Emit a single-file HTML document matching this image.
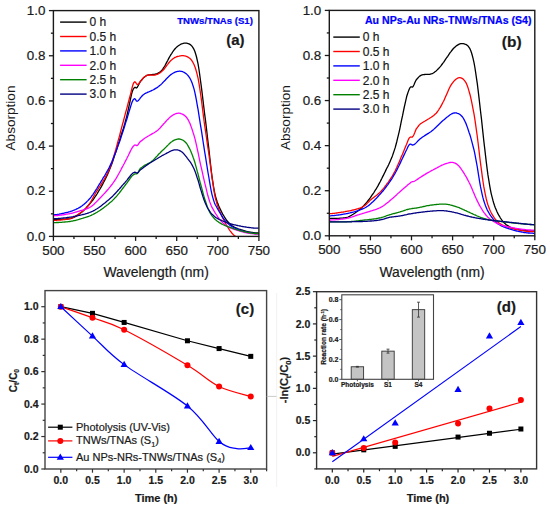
<!DOCTYPE html><html><head><meta charset="utf-8"><style>html,body{margin:0;padding:0;background:#fff;}svg{display:block;} text{stroke-width:0.2px;}</style></head><body>
<svg width="550" height="507" viewBox="0 0 550 507" font-family='"Liberation Sans", sans-serif'>
<rect width="550" height="507" fill="#ffffff"/>
<defs>
<clipPath id="clipa"><rect x="53.4" y="10.6" width="205.5" height="225.8"/></clipPath>
<clipPath id="clipb"><rect x="329.3" y="10.4" width="205.5" height="225.4"/></clipPath>
</defs>
<path d="M53.4,219.5 L54.2,219.5 L55.0,219.4 L55.9,219.4 L56.7,219.4 L57.5,219.4 L58.3,219.4 L59.2,219.4 L60.0,219.3 L60.8,219.3 L61.6,219.3 L62.4,219.2 L63.3,219.2 L64.1,219.2 L64.9,219.1 L65.7,219.1 L66.6,219.0 L67.4,219.0 L68.2,218.9 L69.0,218.8 L69.8,218.7 L70.7,218.5 L71.5,218.3 L72.3,218.0 L73.1,217.7 L73.9,217.3 L74.8,216.9 L75.6,216.4 L76.4,215.9 L77.2,215.4 L78.1,214.9 L78.9,214.3 L79.7,213.7 L80.5,213.1 L81.3,212.5 L82.2,211.8 L83.0,211.0 L83.8,210.3 L84.6,209.4 L85.5,208.6 L86.3,207.7 L87.1,206.8 L87.9,205.9 L88.7,205.0 L89.6,204.1 L90.4,203.1 L91.2,202.1 L92.0,201.1 L92.9,200.0 L93.7,198.9 L94.5,197.7 L95.3,196.5 L96.1,195.3 L97.0,194.0 L97.8,192.7 L98.6,191.3 L99.4,189.9 L100.3,188.5 L101.1,187.1 L101.9,185.6 L102.7,184.1 L103.5,182.5 L104.4,180.9 L105.2,179.3 L106.0,177.6 L106.8,175.9 L107.7,174.1 L108.5,172.2 L109.3,170.3 L110.1,168.3 L110.9,166.3 L111.8,164.1 L112.6,161.8 L113.4,159.4 L114.2,156.9 L115.0,154.4 L115.9,151.8 L116.7,149.2 L117.5,146.6 L118.3,144.0 L119.2,141.4 L120.0,138.9 L120.8,136.3 L121.6,133.8 L122.4,131.3 L123.3,128.7 L124.1,126.0 L124.9,123.2 L125.7,120.1 L126.6,116.9 L127.4,113.4 L128.2,109.8 L129.0,106.1 L129.8,102.5 L130.7,98.0 L131.5,94.4 L132.3,91.5 L133.1,89.4 L134.0,88.0 L134.8,87.3 L135.6,87.5 L136.4,88.0 L137.2,87.4 L138.1,85.8 L138.9,84.1 L139.7,82.6 L140.5,81.3 L141.4,80.5 L142.2,79.4 L143.0,78.4 L143.8,77.6 L144.6,76.9 L145.5,76.2 L146.3,75.7 L147.1,75.3 L147.9,75.1 L148.8,74.9 L149.6,74.8 L150.4,74.7 L151.2,74.6 L152.0,74.6 L152.9,74.5 L153.7,74.5 L154.5,74.4 L155.3,74.2 L156.1,74.0 L157.0,73.7 L157.8,73.3 L158.6,72.9 L159.4,72.3 L160.3,71.7 L161.1,71.0 L161.9,70.1 L162.7,69.1 L163.5,67.9 L164.4,66.6 L165.2,65.2 L166.0,63.6 L166.8,62.1 L167.7,60.5 L168.5,58.9 L169.3,57.4 L170.1,56.0 L170.9,54.6 L171.8,53.3 L172.6,52.0 L173.4,50.8 L174.2,49.8 L175.1,48.8 L175.9,47.9 L176.7,47.1 L177.5,46.4 L178.3,45.8 L179.2,45.2 L180.0,44.7 L180.8,44.2 L181.6,43.9 L182.5,43.6 L183.3,43.3 L184.1,43.2 L184.9,43.1 L185.7,43.2 L186.6,43.2 L187.4,43.4 L188.2,43.6 L189.0,43.9 L189.9,44.4 L190.7,44.9 L191.5,45.7 L192.3,46.7 L193.1,47.9 L194.0,49.4 L194.8,51.3 L195.6,53.7 L196.4,56.5 L197.2,60.0 L198.1,64.2 L198.9,69.0 L199.7,74.6 L200.5,80.7 L201.4,87.1 L202.2,93.7 L203.0,100.4 L203.8,107.0 L204.6,113.6 L205.5,120.3 L206.3,127.1 L207.1,134.0 L207.9,141.0 L208.8,148.3 L209.6,155.7 L210.4,163.0 L211.2,170.0 L212.0,176.6 L212.9,182.5 L213.7,187.6 L214.5,192.0 L215.3,195.6 L216.2,198.7 L217.0,201.3 L217.8,203.6 L218.6,205.6 L219.4,207.4 L220.3,209.2 L221.1,210.9 L221.9,212.5 L222.7,214.1 L223.6,215.5 L224.4,216.9 L225.2,218.2 L226.0,219.4 L226.8,220.5 L227.7,221.5 L228.5,222.4 L229.3,223.3 L230.1,224.1 L231.0,224.8 L231.8,225.5 L232.6,226.1 L233.4,226.6 L234.2,227.1 L235.1,227.5 L235.9,227.9 L236.7,228.2 L237.5,228.6 L238.3,228.9 L239.2,229.2 L240.0,229.4 L240.8,229.7 L241.6,230.0 L242.5,230.2 L243.3,230.5 L244.1,230.7 L244.9,231.0 L245.7,231.2 L246.6,231.4 L247.4,231.6 L248.2,231.8 L249.0,231.9 L249.9,232.1 L250.7,232.2 L251.5,232.4 L252.3,232.5 L253.1,232.6 L254.0,232.7 L254.8,232.8 L255.6,232.8 L256.4,232.9 L257.3,232.9 L258.1,233.0 L258.9,233.0" fill="none" stroke="#000000" stroke-width="1.3" stroke-linejoin="round" clip-path="url(#clipa)"/>
<path d="M53.4,220.3 L54.2,220.3 L55.0,220.3 L55.9,220.3 L56.7,220.3 L57.5,220.2 L58.3,220.2 L59.2,220.1 L60.0,220.1 L60.8,220.0 L61.6,219.9 L62.4,219.8 L63.3,219.7 L64.1,219.6 L64.9,219.5 L65.7,219.4 L66.6,219.3 L67.4,219.2 L68.2,219.0 L69.0,218.9 L69.8,218.7 L70.7,218.4 L71.5,218.2 L72.3,217.9 L73.1,217.5 L73.9,217.1 L74.8,216.6 L75.6,216.1 L76.4,215.6 L77.2,215.1 L78.1,214.5 L78.9,213.9 L79.7,213.4 L80.5,212.8 L81.3,212.2 L82.2,211.5 L83.0,210.9 L83.8,210.2 L84.6,209.5 L85.5,208.7 L86.3,207.9 L87.1,207.0 L87.9,206.0 L88.7,204.9 L89.6,203.7 L90.4,202.4 L91.2,201.0 L92.0,199.5 L92.9,197.9 L93.7,196.4 L94.5,195.0 L95.3,193.5 L96.1,192.2 L97.0,190.8 L97.8,189.5 L98.6,188.2 L99.4,187.0 L100.3,185.7 L101.1,184.4 L101.9,183.1 L102.7,181.8 L103.5,180.4 L104.4,179.1 L105.2,177.6 L106.0,176.1 L106.8,174.5 L107.7,172.9 L108.5,171.1 L109.3,169.2 L110.1,167.2 L110.9,165.1 L111.8,162.8 L112.6,160.3 L113.4,157.7 L114.2,155.0 L115.0,152.1 L115.9,149.2 L116.7,146.2 L117.5,143.2 L118.3,140.2 L119.2,137.1 L120.0,134.0 L120.8,130.9 L121.6,127.7 L122.4,124.6 L123.3,121.5 L124.1,118.3 L124.9,115.3 L125.7,112.2 L126.6,109.1 L127.4,106.1 L128.2,103.0 L129.0,99.9 L129.8,96.8 L130.7,93.6 L131.5,90.2 L132.3,86.9 L133.1,84.2 L134.0,82.4 L134.8,81.7 L135.6,82.3 L136.4,83.6 L137.2,84.5 L138.1,84.4 L138.9,83.6 L139.7,82.4 L140.5,81.1 L141.4,80.1 L142.2,79.2 L143.0,78.3 L143.8,77.5 L144.6,76.8 L145.5,76.2 L146.3,75.7 L147.1,75.4 L147.9,75.1 L148.8,75.0 L149.6,75.0 L150.4,75.0 L151.2,75.1 L152.0,75.2 L152.9,75.2 L153.7,75.2 L154.5,75.1 L155.3,75.0 L156.1,74.7 L157.0,74.4 L157.8,74.1 L158.6,73.7 L159.4,73.2 L160.3,72.6 L161.1,72.0 L161.9,71.3 L162.7,70.6 L163.5,69.7 L164.4,68.7 L165.2,67.6 L166.0,66.5 L166.8,65.4 L167.7,64.3 L168.5,63.2 L169.3,62.3 L170.1,61.4 L170.9,60.5 L171.8,59.8 L172.6,59.1 L173.4,58.5 L174.2,57.9 L175.1,57.4 L175.9,57.1 L176.7,56.7 L177.5,56.5 L178.3,56.3 L179.2,56.1 L180.0,55.9 L180.8,55.8 L181.6,55.7 L182.5,55.7 L183.3,55.7 L184.1,55.8 L184.9,55.9 L185.7,56.2 L186.6,56.4 L187.4,56.8 L188.2,57.2 L189.0,57.8 L189.9,58.4 L190.7,59.2 L191.5,60.2 L192.3,61.4 L193.1,62.8 L194.0,64.5 L194.8,66.5 L195.6,68.8 L196.4,71.5 L197.2,74.7 L198.1,78.4 L198.9,82.8 L199.7,87.8 L200.5,93.5 L201.4,99.7 L202.2,106.2 L203.0,112.7 L203.8,119.0 L204.6,125.0 L205.5,130.8 L206.3,136.5 L207.1,142.1 L207.9,147.7 L208.8,153.5 L209.6,159.4 L210.4,165.4 L211.2,171.5 L212.0,177.5 L212.9,183.4 L213.7,188.8 L214.5,193.7 L215.3,197.8 L216.2,201.2 L217.0,204.0 L217.8,206.4 L218.6,208.5 L219.4,210.5 L220.3,212.4 L221.1,214.3 L221.9,216.1 L222.7,217.9 L223.6,219.6 L224.4,221.2 L225.2,222.7 L226.0,224.2 L226.8,225.6 L227.7,227.0 L228.5,228.3 L229.3,229.6 L230.1,230.8 L231.0,231.9 L231.8,233.0 L232.6,233.9 L233.4,234.8 L234.2,235.5 L235.1,236.1 L235.9,236.5" fill="none" stroke="#ff0000" stroke-width="1.3" stroke-linejoin="round" clip-path="url(#clipa)"/>
<path d="M53.4,214.8 L54.2,214.8 L55.0,214.7 L55.9,214.6 L56.7,214.6 L57.5,214.4 L58.3,214.3 L59.2,214.2 L60.0,214.0 L60.8,213.9 L61.6,213.7 L62.4,213.5 L63.3,213.3 L64.1,213.1 L64.9,212.9 L65.7,212.7 L66.6,212.5 L67.4,212.3 L68.2,212.1 L69.0,211.8 L69.8,211.6 L70.7,211.3 L71.5,211.1 L72.3,210.8 L73.1,210.5 L73.9,210.2 L74.8,209.8 L75.6,209.5 L76.4,209.1 L77.2,208.7 L78.1,208.3 L78.9,207.8 L79.7,207.4 L80.5,206.9 L81.3,206.3 L82.2,205.7 L83.0,205.1 L83.8,204.5 L84.6,203.8 L85.5,203.0 L86.3,202.2 L87.1,201.4 L87.9,200.6 L88.7,199.7 L89.6,198.8 L90.4,197.8 L91.2,196.8 L92.0,195.7 L92.9,194.6 L93.7,193.4 L94.5,192.2 L95.3,190.9 L96.1,189.6 L97.0,188.3 L97.8,186.9 L98.6,185.5 L99.4,184.2 L100.3,182.8 L101.1,181.4 L101.9,180.1 L102.7,178.7 L103.5,177.4 L104.4,176.1 L105.2,174.7 L106.0,173.3 L106.8,171.9 L107.7,170.4 L108.5,168.9 L109.3,167.3 L110.1,165.6 L110.9,163.9 L111.8,162.0 L112.6,160.0 L113.4,158.0 L114.2,156.0 L115.0,153.9 L115.9,151.7 L116.7,149.6 L117.5,147.4 L118.3,145.1 L119.2,142.8 L120.0,140.5 L120.8,138.1 L121.6,135.6 L122.4,133.1 L123.3,130.5 L124.1,127.9 L124.9,125.3 L125.7,122.6 L126.6,120.0 L127.4,117.3 L128.2,114.6 L129.0,111.9 L129.8,109.3 L130.7,106.2 L131.5,103.7 L132.3,101.6 L133.1,100.0 L134.0,99.0 L134.8,98.6 L135.6,99.6 L136.4,101.0 L137.2,101.3 L138.1,100.8 L138.9,99.9 L139.7,98.8 L140.5,97.6 L141.4,96.7 L142.2,95.8 L143.0,95.0 L143.8,94.4 L144.6,93.8 L145.5,93.3 L146.3,92.9 L147.1,92.6 L147.9,92.2 L148.8,91.9 L149.6,91.5 L150.4,91.2 L151.2,90.8 L152.0,90.4 L152.9,90.0 L153.7,89.6 L154.5,89.1 L155.3,88.6 L156.1,88.1 L157.0,87.6 L157.8,87.1 L158.6,86.5 L159.4,85.8 L160.3,85.1 L161.1,84.4 L161.9,83.6 L162.7,82.7 L163.5,81.9 L164.4,81.0 L165.2,80.2 L166.0,79.3 L166.8,78.4 L167.7,77.6 L168.5,76.8 L169.3,76.0 L170.1,75.3 L170.9,74.6 L171.8,74.0 L172.6,73.5 L173.4,73.0 L174.2,72.6 L175.1,72.2 L175.9,71.9 L176.7,71.6 L177.5,71.4 L178.3,71.3 L179.2,71.2 L180.0,71.2 L180.8,71.3 L181.6,71.4 L182.5,71.7 L183.3,72.0 L184.1,72.4 L184.9,72.8 L185.7,73.4 L186.6,74.1 L187.4,74.9 L188.2,75.8 L189.0,76.9 L189.9,78.2 L190.7,79.7 L191.5,81.5 L192.3,83.6 L193.1,86.0 L194.0,88.9 L194.8,92.2 L195.6,96.0 L196.4,100.2 L197.2,104.8 L198.1,109.7 L198.9,114.8 L199.7,120.0 L200.5,125.2 L201.4,130.4 L202.2,135.7 L203.0,141.0 L203.8,146.2 L204.6,151.4 L205.5,156.6 L206.3,161.8 L207.1,166.9 L207.9,172.0 L208.8,177.0 L209.6,181.8 L210.4,186.5 L211.2,190.8 L212.0,194.6 L212.9,197.9 L213.7,200.6 L214.5,202.9 L215.3,204.7 L216.2,206.3 L217.0,207.8 L217.8,209.2 L218.6,210.6 L219.4,212.0 L220.3,213.4 L221.1,214.8 L221.9,216.2 L222.7,217.4 L223.6,218.6 L224.4,219.7 L225.2,220.7 L226.0,221.6 L226.8,222.5 L227.7,223.3 L228.5,224.1 L229.3,224.8 L230.1,225.4 L231.0,226.0 L231.8,226.5 L232.6,227.0 L233.4,227.4 L234.2,227.8 L235.1,228.1 L235.9,228.4 L236.7,228.8 L237.5,229.1 L238.3,229.4 L239.2,229.7 L240.0,230.0 L240.8,230.3 L241.6,230.6 L242.5,230.8 L243.3,231.1 L244.1,231.3 L244.9,231.6 L245.7,231.8 L246.6,232.0 L247.4,232.2 L248.2,232.4 L249.0,232.6 L249.9,232.7 L250.7,232.9 L251.5,233.0 L252.3,233.1 L253.1,233.3 L254.0,233.4 L254.8,233.4 L255.6,233.5 L256.4,233.6 L257.3,233.6 L258.1,233.6 L258.9,233.6" fill="none" stroke="#0000ff" stroke-width="1.3" stroke-linejoin="round" clip-path="url(#clipa)"/>
<path d="M53.4,215.7 L54.2,215.7 L55.0,215.7 L55.9,215.6 L56.7,215.6 L57.5,215.5 L58.3,215.4 L59.2,215.3 L60.0,215.2 L60.8,215.1 L61.6,215.0 L62.4,214.9 L63.3,214.8 L64.1,214.6 L64.9,214.5 L65.7,214.4 L66.6,214.2 L67.4,214.1 L68.2,213.9 L69.0,213.8 L69.8,213.6 L70.7,213.4 L71.5,213.3 L72.3,213.1 L73.1,212.9 L73.9,212.6 L74.8,212.4 L75.6,212.2 L76.4,212.0 L77.2,211.7 L78.1,211.5 L78.9,211.2 L79.7,211.0 L80.5,210.7 L81.3,210.5 L82.2,210.3 L83.0,210.0 L83.8,209.8 L84.6,209.5 L85.5,209.2 L86.3,209.0 L87.1,208.7 L87.9,208.3 L88.7,207.9 L89.6,207.5 L90.4,207.0 L91.2,206.5 L92.0,205.9 L92.9,205.2 L93.7,204.5 L94.5,203.7 L95.3,202.9 L96.1,202.1 L97.0,201.2 L97.8,200.4 L98.6,199.5 L99.4,198.7 L100.3,197.8 L101.1,197.0 L101.9,196.1 L102.7,195.2 L103.5,194.4 L104.4,193.5 L105.2,192.6 L106.0,191.7 L106.8,190.8 L107.7,189.8 L108.5,188.9 L109.3,187.9 L110.1,186.9 L110.9,185.8 L111.8,184.8 L112.6,183.7 L113.4,182.5 L114.2,181.3 L115.0,180.1 L115.9,178.8 L116.7,177.4 L117.5,176.0 L118.3,174.5 L119.2,173.0 L120.0,171.5 L120.8,170.0 L121.6,168.4 L122.4,166.9 L123.3,165.3 L124.1,163.8 L124.9,162.2 L125.7,160.6 L126.6,159.0 L127.4,157.3 L128.2,155.7 L129.0,154.0 L129.8,152.4 L130.7,150.5 L131.5,149.0 L132.3,147.6 L133.1,146.5 L134.0,145.6 L134.8,145.0 L135.6,145.1 L136.4,145.5 L137.2,145.5 L138.1,144.7 L138.9,143.4 L139.7,142.3 L140.5,141.4 L141.4,140.9 L142.2,140.2 L143.0,139.5 L143.8,138.9 L144.6,138.3 L145.5,137.8 L146.3,137.3 L147.1,136.8 L147.9,136.3 L148.8,135.8 L149.6,135.3 L150.4,134.8 L151.2,134.4 L152.0,133.9 L152.9,133.4 L153.7,133.0 L154.5,132.5 L155.3,132.0 L156.1,131.4 L157.0,130.8 L157.8,130.2 L158.6,129.4 L159.4,128.6 L160.3,127.7 L161.1,126.8 L161.9,125.9 L162.7,125.0 L163.5,124.0 L164.4,123.1 L165.2,122.2 L166.0,121.3 L166.8,120.4 L167.7,119.5 L168.5,118.7 L169.3,117.9 L170.1,117.1 L170.9,116.5 L171.8,115.9 L172.6,115.3 L173.4,114.8 L174.2,114.4 L175.1,114.0 L175.9,113.7 L176.7,113.4 L177.5,113.3 L178.3,113.2 L179.2,113.2 L180.0,113.3 L180.8,113.5 L181.6,113.8 L182.5,114.1 L183.3,114.6 L184.1,115.1 L184.9,115.7 L185.7,116.5 L186.6,117.5 L187.4,118.6 L188.2,119.9 L189.0,121.5 L189.9,123.3 L190.7,125.4 L191.5,127.6 L192.3,130.0 L193.1,132.6 L194.0,135.3 L194.8,138.2 L195.6,141.4 L196.4,144.9 L197.2,148.7 L198.1,152.6 L198.9,156.6 L199.7,160.6 L200.5,164.4 L201.4,168.1 L202.2,171.7 L203.0,175.3 L203.8,178.8 L204.6,182.3 L205.5,185.8 L206.3,189.2 L207.1,192.6 L207.9,195.8 L208.8,198.8 L209.6,201.4 L210.4,203.6 L211.2,205.6 L212.0,207.4 L212.9,208.9 L213.7,210.4 L214.5,211.8 L215.3,213.2 L216.2,214.5 L217.0,215.7 L217.8,216.9 L218.6,218.0 L219.4,219.1 L220.3,220.1 L221.1,221.0 L221.9,221.9 L222.7,222.7 L223.6,223.5 L224.4,224.2 L225.2,224.9 L226.0,225.5 L226.8,226.1 L227.7,226.6 L228.5,227.0 L229.3,227.4 L230.1,227.8 L231.0,228.1 L231.8,228.4 L232.6,228.8 L233.4,229.1 L234.2,229.3 L235.1,229.6 L235.9,229.9 L236.7,230.2 L237.5,230.4 L238.3,230.7 L239.2,231.0 L240.0,231.2 L240.8,231.4 L241.6,231.7 L242.5,231.9 L243.3,232.1 L244.1,232.3 L244.9,232.5 L245.7,232.6 L246.6,232.8 L247.4,233.0 L248.2,233.1 L249.0,233.3 L249.9,233.4 L250.7,233.5 L251.5,233.6 L252.3,233.7 L253.1,233.8 L254.0,233.9 L254.8,234.0 L255.6,234.0 L256.4,234.0 L257.3,234.1 L258.1,234.1 L258.9,234.1" fill="none" stroke="#ff00ff" stroke-width="1.3" stroke-linejoin="round" clip-path="url(#clipa)"/>
<path d="M53.4,222.6 L54.2,222.6 L55.0,222.6 L55.9,222.6 L56.7,222.5 L57.5,222.5 L58.3,222.5 L59.2,222.4 L60.0,222.4 L60.8,222.3 L61.6,222.3 L62.4,222.2 L63.3,222.2 L64.1,222.1 L64.9,222.0 L65.7,221.9 L66.6,221.9 L67.4,221.8 L68.2,221.7 L69.0,221.6 L69.8,221.5 L70.7,221.4 L71.5,221.2 L72.3,221.1 L73.1,220.9 L73.9,220.7 L74.8,220.5 L75.6,220.3 L76.4,220.1 L77.2,219.8 L78.1,219.6 L78.9,219.4 L79.7,219.1 L80.5,218.9 L81.3,218.6 L82.2,218.4 L83.0,218.2 L83.8,217.9 L84.6,217.7 L85.5,217.4 L86.3,217.2 L87.1,216.9 L87.9,216.6 L88.7,216.3 L89.6,216.0 L90.4,215.6 L91.2,215.3 L92.0,214.9 L92.9,214.5 L93.7,214.1 L94.5,213.7 L95.3,213.2 L96.1,212.7 L97.0,212.3 L97.8,211.8 L98.6,211.3 L99.4,210.7 L100.3,210.2 L101.1,209.6 L101.9,209.1 L102.7,208.5 L103.5,207.9 L104.4,207.3 L105.2,206.6 L106.0,206.0 L106.8,205.3 L107.7,204.7 L108.5,204.0 L109.3,203.3 L110.1,202.6 L110.9,201.9 L111.8,201.2 L112.6,200.4 L113.4,199.6 L114.2,198.8 L115.0,197.9 L115.9,197.0 L116.7,196.1 L117.5,195.1 L118.3,194.1 L119.2,193.1 L120.0,192.0 L120.8,191.0 L121.6,189.9 L122.4,188.8 L123.3,187.8 L124.1,186.7 L124.9,185.6 L125.7,184.5 L126.6,183.4 L127.4,182.3 L128.2,181.2 L129.0,180.1 L129.8,179.0 L130.7,177.7 L131.5,176.7 L132.3,175.7 L133.1,175.0 L134.0,174.4 L134.8,173.9 L135.6,173.8 L136.4,173.9 L137.2,173.6 L138.1,172.5 L138.9,170.8 L139.7,169.3 L140.5,168.2 L141.4,167.9 L142.2,167.1 L143.0,166.5 L143.8,165.9 L144.6,165.4 L145.5,164.9 L146.3,164.5 L147.1,164.1 L147.9,163.6 L148.8,163.2 L149.6,162.8 L150.4,162.3 L151.2,161.7 L152.0,161.1 L152.9,160.4 L153.7,159.6 L154.5,158.8 L155.3,157.9 L156.1,157.0 L157.0,156.1 L157.8,155.2 L158.6,154.3 L159.4,153.5 L160.3,152.7 L161.1,151.8 L161.9,151.0 L162.7,150.3 L163.5,149.5 L164.4,148.7 L165.2,147.9 L166.0,147.1 L166.8,146.3 L167.7,145.4 L168.5,144.6 L169.3,143.7 L170.1,143.0 L170.9,142.3 L171.8,141.7 L172.6,141.1 L173.4,140.6 L174.2,140.2 L175.1,139.8 L175.9,139.5 L176.7,139.3 L177.5,139.1 L178.3,139.0 L179.2,139.0 L180.0,139.1 L180.8,139.3 L181.6,139.6 L182.5,140.0 L183.3,140.4 L184.1,141.0 L184.9,141.7 L185.7,142.5 L186.6,143.5 L187.4,144.7 L188.2,146.1 L189.0,147.6 L189.9,149.3 L190.7,151.1 L191.5,153.0 L192.3,155.0 L193.1,157.3 L194.0,159.7 L194.8,162.3 L195.6,165.1 L196.4,168.1 L197.2,171.2 L198.1,174.3 L198.9,177.5 L199.7,180.7 L200.5,183.8 L201.4,186.9 L202.2,189.9 L203.0,192.9 L203.8,195.8 L204.6,198.6 L205.5,201.3 L206.3,203.8 L207.1,206.2 L207.9,208.3 L208.8,210.2 L209.6,211.9 L210.4,213.4 L211.2,214.7 L212.0,215.8 L212.9,216.9 L213.7,217.8 L214.5,218.7 L215.3,219.5 L216.2,220.2 L217.0,220.9 L217.8,221.5 L218.6,222.1 L219.4,222.6 L220.3,223.1 L221.1,223.6 L221.9,224.1 L222.7,224.5 L223.6,224.9 L224.4,225.2 L225.2,225.6 L226.0,225.9 L226.8,226.2 L227.7,226.6 L228.5,226.8 L229.3,227.1 L230.1,227.4 L231.0,227.7 L231.8,228.0 L232.6,228.2 L233.4,228.5 L234.2,228.8 L235.1,229.1 L235.9,229.3 L236.7,229.6 L237.5,229.8 L238.3,230.1 L239.2,230.3 L240.0,230.6 L240.8,230.8 L241.6,231.0 L242.5,231.2 L243.3,231.5 L244.1,231.7 L244.9,231.9 L245.7,232.0 L246.6,232.2 L247.4,232.4 L248.2,232.6 L249.0,232.7 L249.9,232.9 L250.7,233.0 L251.5,233.1 L252.3,233.2 L253.1,233.3 L254.0,233.4 L254.8,233.5 L255.6,233.5 L256.4,233.6 L257.3,233.6 L258.1,233.6 L258.9,233.6" fill="none" stroke="#008000" stroke-width="1.3" stroke-linejoin="round" clip-path="url(#clipa)"/>
<path d="M53.4,218.7 L54.2,218.7 L55.0,218.7 L55.9,218.6 L56.7,218.6 L57.5,218.6 L58.3,218.5 L59.2,218.4 L60.0,218.4 L60.8,218.3 L61.6,218.2 L62.4,218.1 L63.3,218.0 L64.1,217.9 L64.9,217.8 L65.7,217.8 L66.6,217.6 L67.4,217.5 L68.2,217.4 L69.0,217.3 L69.8,217.2 L70.7,217.1 L71.5,217.0 L72.3,216.8 L73.1,216.7 L73.9,216.5 L74.8,216.3 L75.6,216.2 L76.4,216.0 L77.2,215.8 L78.1,215.6 L78.9,215.4 L79.7,215.3 L80.5,215.1 L81.3,214.9 L82.2,214.7 L83.0,214.5 L83.8,214.3 L84.6,214.1 L85.5,213.8 L86.3,213.6 L87.1,213.4 L87.9,213.1 L88.7,212.8 L89.6,212.5 L90.4,212.2 L91.2,211.9 L92.0,211.5 L92.9,211.1 L93.7,210.7 L94.5,210.3 L95.3,209.8 L96.1,209.3 L97.0,208.8 L97.8,208.2 L98.6,207.7 L99.4,207.1 L100.3,206.5 L101.1,205.9 L101.9,205.3 L102.7,204.6 L103.5,204.0 L104.4,203.3 L105.2,202.7 L106.0,202.0 L106.8,201.3 L107.7,200.6 L108.5,199.9 L109.3,199.2 L110.1,198.5 L110.9,197.8 L111.8,197.0 L112.6,196.2 L113.4,195.4 L114.2,194.5 L115.0,193.7 L115.9,192.8 L116.7,191.9 L117.5,191.0 L118.3,190.0 L119.2,189.1 L120.0,188.2 L120.8,187.3 L121.6,186.3 L122.4,185.4 L123.3,184.4 L124.1,183.5 L124.9,182.6 L125.7,181.6 L126.6,180.6 L127.4,179.6 L128.2,178.5 L129.0,177.5 L129.8,176.5 L130.7,175.3 L131.5,174.4 L132.3,173.6 L133.1,172.9 L134.0,172.5 L134.8,172.2 L135.6,172.3 L136.4,172.9 L137.2,173.1 L138.1,172.5 L138.9,171.6 L139.7,170.6 L140.5,169.8 L141.4,169.3 L142.2,168.6 L143.0,167.9 L143.8,167.3 L144.6,166.7 L145.5,166.1 L146.3,165.5 L147.1,164.9 L147.9,164.4 L148.8,163.8 L149.6,163.3 L150.4,162.8 L151.2,162.3 L152.0,161.7 L152.9,161.2 L153.7,160.7 L154.5,160.2 L155.3,159.7 L156.1,159.2 L157.0,158.7 L157.8,158.2 L158.6,157.7 L159.4,157.2 L160.3,156.7 L161.1,156.3 L161.9,155.8 L162.7,155.3 L163.5,154.9 L164.4,154.5 L165.2,154.0 L166.0,153.6 L166.8,153.1 L167.7,152.7 L168.5,152.3 L169.3,151.8 L170.1,151.4 L170.9,151.0 L171.8,150.6 L172.6,150.3 L173.4,150.1 L174.2,149.9 L175.1,149.8 L175.9,149.8 L176.7,149.8 L177.5,149.9 L178.3,150.2 L179.2,150.4 L180.0,150.8 L180.8,151.2 L181.6,151.8 L182.5,152.4 L183.3,153.2 L184.1,154.1 L184.9,155.1 L185.7,156.1 L186.6,157.2 L187.4,158.3 L188.2,159.3 L189.0,160.4 L189.9,161.5 L190.7,162.7 L191.5,164.0 L192.3,165.4 L193.1,167.0 L194.0,168.8 L194.8,170.7 L195.6,172.9 L196.4,175.2 L197.2,177.7 L198.1,180.3 L198.9,183.1 L199.7,186.0 L200.5,188.8 L201.4,191.6 L202.2,194.3 L203.0,196.9 L203.8,199.2 L204.6,201.4 L205.5,203.5 L206.3,205.3 L207.1,207.0 L207.9,208.5 L208.8,209.9 L209.6,211.1 L210.4,212.3 L211.2,213.3 L212.0,214.3 L212.9,215.1 L213.7,215.8 L214.5,216.5 L215.3,217.1 L216.2,217.7 L217.0,218.2 L217.8,218.6 L218.6,219.1 L219.4,219.5 L220.3,219.9 L221.1,220.2 L221.9,220.6 L222.7,221.0 L223.6,221.3 L224.4,221.7 L225.2,222.0 L226.0,222.3 L226.8,222.6 L227.7,222.9 L228.5,223.2 L229.3,223.5 L230.1,223.7 L231.0,224.0 L231.8,224.2 L232.6,224.4 L233.4,224.6 L234.2,224.8 L235.1,224.9 L235.9,225.1 L236.7,225.3 L237.5,225.5 L238.3,225.7 L239.2,225.8 L240.0,226.0 L240.8,226.2 L241.6,226.3 L242.5,226.5 L243.3,226.6 L244.1,226.8 L244.9,226.9 L245.7,227.0 L246.6,227.2 L247.4,227.3 L248.2,227.4 L249.0,227.5 L249.9,227.6 L250.7,227.7 L251.5,227.8 L252.3,227.9 L253.1,228.0 L254.0,228.1 L254.8,228.1 L255.6,228.1 L256.4,228.2 L257.3,228.2 L258.1,228.2 L258.9,228.2" fill="none" stroke="#000080" stroke-width="1.3" stroke-linejoin="round" clip-path="url(#clipa)"/>
<rect x="53.4" y="10.6" width="205.49999999999997" height="225.8" fill="none" stroke="#1a1a1a" stroke-width="1.4"/>
<line x1="53.40" y1="236.4" x2="53.40" y2="240.9" stroke="#1a1a1a" stroke-width="1.3"/>
<text x="53.40" y="254.60" font-size="13.4" font-weight="normal" text-anchor="middle" fill="#1a1a1a" stroke="#1a1a1a" >500</text>
<line x1="73.95" y1="236.4" x2="73.95" y2="238.9" stroke="#1a1a1a" stroke-width="1.3"/>
<line x1="94.50" y1="236.4" x2="94.50" y2="240.9" stroke="#1a1a1a" stroke-width="1.3"/>
<text x="94.50" y="254.60" font-size="13.4" font-weight="normal" text-anchor="middle" fill="#1a1a1a" stroke="#1a1a1a" >550</text>
<line x1="115.05" y1="236.4" x2="115.05" y2="238.9" stroke="#1a1a1a" stroke-width="1.3"/>
<line x1="135.60" y1="236.4" x2="135.60" y2="240.9" stroke="#1a1a1a" stroke-width="1.3"/>
<text x="135.60" y="254.60" font-size="13.4" font-weight="normal" text-anchor="middle" fill="#1a1a1a" stroke="#1a1a1a" >600</text>
<line x1="156.15" y1="236.4" x2="156.15" y2="238.9" stroke="#1a1a1a" stroke-width="1.3"/>
<line x1="176.70" y1="236.4" x2="176.70" y2="240.9" stroke="#1a1a1a" stroke-width="1.3"/>
<text x="176.70" y="254.60" font-size="13.4" font-weight="normal" text-anchor="middle" fill="#1a1a1a" stroke="#1a1a1a" >650</text>
<line x1="197.25" y1="236.4" x2="197.25" y2="238.9" stroke="#1a1a1a" stroke-width="1.3"/>
<line x1="217.80" y1="236.4" x2="217.80" y2="240.9" stroke="#1a1a1a" stroke-width="1.3"/>
<text x="217.80" y="254.60" font-size="13.4" font-weight="normal" text-anchor="middle" fill="#1a1a1a" stroke="#1a1a1a" >700</text>
<line x1="238.35" y1="236.4" x2="238.35" y2="238.9" stroke="#1a1a1a" stroke-width="1.3"/>
<line x1="258.90" y1="236.4" x2="258.90" y2="240.9" stroke="#1a1a1a" stroke-width="1.3"/>
<text x="258.90" y="254.60" font-size="13.4" font-weight="normal" text-anchor="middle" fill="#1a1a1a" stroke="#1a1a1a" >750</text>
<line x1="48.9" y1="236.40" x2="53.4" y2="236.40" stroke="#1a1a1a" stroke-width="1.3"/>
<text x="45.40" y="240.50" font-size="13.4" font-weight="normal" text-anchor="end" fill="#1a1a1a" stroke="#1a1a1a" >0.0</text>
<line x1="50.9" y1="213.82" x2="53.4" y2="213.82" stroke="#1a1a1a" stroke-width="1.3"/>
<line x1="48.9" y1="191.24" x2="53.4" y2="191.24" stroke="#1a1a1a" stroke-width="1.3"/>
<text x="45.40" y="195.34" font-size="13.4" font-weight="normal" text-anchor="end" fill="#1a1a1a" stroke="#1a1a1a" >0.2</text>
<line x1="50.9" y1="168.66" x2="53.4" y2="168.66" stroke="#1a1a1a" stroke-width="1.3"/>
<line x1="48.9" y1="146.08" x2="53.4" y2="146.08" stroke="#1a1a1a" stroke-width="1.3"/>
<text x="45.40" y="150.18" font-size="13.4" font-weight="normal" text-anchor="end" fill="#1a1a1a" stroke="#1a1a1a" >0.4</text>
<line x1="50.9" y1="123.50" x2="53.4" y2="123.50" stroke="#1a1a1a" stroke-width="1.3"/>
<line x1="48.9" y1="100.92" x2="53.4" y2="100.92" stroke="#1a1a1a" stroke-width="1.3"/>
<text x="45.40" y="105.02" font-size="13.4" font-weight="normal" text-anchor="end" fill="#1a1a1a" stroke="#1a1a1a" >0.6</text>
<line x1="50.9" y1="78.34" x2="53.4" y2="78.34" stroke="#1a1a1a" stroke-width="1.3"/>
<line x1="48.9" y1="55.76" x2="53.4" y2="55.76" stroke="#1a1a1a" stroke-width="1.3"/>
<text x="45.40" y="59.86" font-size="13.4" font-weight="normal" text-anchor="end" fill="#1a1a1a" stroke="#1a1a1a" >0.8</text>
<line x1="50.9" y1="33.18" x2="53.4" y2="33.18" stroke="#1a1a1a" stroke-width="1.3"/>
<line x1="48.9" y1="10.60" x2="53.4" y2="10.60" stroke="#1a1a1a" stroke-width="1.3"/>
<text x="45.40" y="14.70" font-size="13.4" font-weight="normal" text-anchor="end" fill="#1a1a1a" stroke="#1a1a1a" >1.0</text>
<text x="156.15" y="277.20" font-size="13.9" font-weight="normal" text-anchor="middle" fill="#1a1a1a" stroke="#1a1a1a" >Wavelength (nm)</text>
<text x="0" y="0" font-size="13.6" text-anchor="middle" fill="#1a1a1a" transform="translate(14.5,118.0) rotate(-90)">Absorption</text>
<line x1="60.1" y1="22.10" x2="86.6" y2="22.10" stroke="#000000" stroke-width="1.4"/>
<text x="89.60" y="26.30" font-size="12" font-weight="normal" text-anchor="start" fill="#1a1a1a" stroke="#1a1a1a" >0 h</text>
<line x1="60.1" y1="36.50" x2="86.6" y2="36.50" stroke="#ff0000" stroke-width="1.4"/>
<text x="89.60" y="40.70" font-size="12" font-weight="normal" text-anchor="start" fill="#1a1a1a" stroke="#1a1a1a" >0.5 h</text>
<line x1="60.1" y1="50.90" x2="86.6" y2="50.90" stroke="#0000ff" stroke-width="1.4"/>
<text x="89.60" y="55.10" font-size="12" font-weight="normal" text-anchor="start" fill="#1a1a1a" stroke="#1a1a1a" >1.0 h</text>
<line x1="60.1" y1="65.30" x2="86.6" y2="65.30" stroke="#ff00ff" stroke-width="1.4"/>
<text x="89.60" y="69.50" font-size="12" font-weight="normal" text-anchor="start" fill="#1a1a1a" stroke="#1a1a1a" >2.0 h</text>
<line x1="60.1" y1="79.70" x2="86.6" y2="79.70" stroke="#008000" stroke-width="1.4"/>
<text x="89.60" y="83.90" font-size="12" font-weight="normal" text-anchor="start" fill="#1a1a1a" stroke="#1a1a1a" >2.5 h</text>
<line x1="60.1" y1="94.10" x2="86.6" y2="94.10" stroke="#000080" stroke-width="1.4"/>
<text x="89.60" y="98.30" font-size="12" font-weight="normal" text-anchor="start" fill="#1a1a1a" stroke="#1a1a1a" >3.0 h</text>
<text x="252.90" y="24.40" font-size="9.6" font-weight="bold" text-anchor="end" fill="#0000ff" stroke="#0000ff" >TNWs/TNAs (S1)</text>
<text x="244.60" y="45.00" font-size="15" font-weight="bold" text-anchor="end" fill="#1a1a1a" stroke="#1a1a1a" >(a)</text>
<path d="M329.3,218.4 L330.1,218.4 L330.9,218.4 L331.8,218.4 L332.6,218.4 L333.4,218.4 L334.2,218.4 L335.1,218.4 L335.9,218.4 L336.7,218.3 L337.5,218.3 L338.3,218.3 L339.2,218.3 L340.0,218.2 L340.8,218.2 L341.6,218.2 L342.5,218.1 L343.3,218.0 L344.1,218.0 L344.9,217.9 L345.7,217.7 L346.6,217.5 L347.4,217.3 L348.2,217.0 L349.0,216.6 L349.9,216.2 L350.7,215.7 L351.5,215.3 L352.3,214.8 L353.1,214.3 L354.0,213.7 L354.8,213.2 L355.6,212.6 L356.4,212.0 L357.2,211.4 L358.1,210.7 L358.9,210.1 L359.7,209.4 L360.5,208.7 L361.4,207.9 L362.2,207.2 L363.0,206.4 L363.8,205.6 L364.6,204.7 L365.5,203.8 L366.3,202.8 L367.1,201.9 L367.9,200.8 L368.8,199.8 L369.6,198.7 L370.4,197.6 L371.2,196.4 L372.0,195.2 L372.9,194.0 L373.7,192.8 L374.5,191.5 L375.3,190.2 L376.2,188.9 L377.0,187.5 L377.8,186.1 L378.6,184.6 L379.4,183.1 L380.3,181.5 L381.1,179.9 L381.9,178.3 L382.7,176.6 L383.6,174.9 L384.4,173.2 L385.2,171.6 L386.0,169.9 L386.8,168.3 L387.7,166.6 L388.5,165.0 L389.3,163.3 L390.1,161.5 L390.9,159.6 L391.8,157.6 L392.6,155.4 L393.4,153.0 L394.2,150.6 L395.1,147.9 L395.9,145.0 L396.7,142.0 L397.5,138.7 L398.3,135.3 L399.2,131.6 L400.0,127.8 L400.8,123.9 L401.6,119.9 L402.5,115.9 L403.3,111.9 L404.1,108.0 L404.9,104.3 L405.7,100.9 L406.6,96.8 L407.4,94.2 L408.2,91.9 L409.0,89.7 L409.9,87.8 L410.7,86.8 L411.5,86.9 L412.3,87.2 L413.1,86.5 L414.0,84.8 L414.8,82.8 L415.6,81.0 L416.4,79.6 L417.3,78.8 L418.1,77.7 L418.9,76.9 L419.7,76.1 L420.5,75.6 L421.4,75.2 L422.2,74.9 L423.0,74.7 L423.8,74.6 L424.7,74.5 L425.5,74.4 L426.3,74.4 L427.1,74.4 L427.9,74.4 L428.8,74.4 L429.6,74.3 L430.4,74.1 L431.2,73.9 L432.0,73.7 L432.9,73.3 L433.7,72.8 L434.5,72.2 L435.3,71.6 L436.2,70.9 L437.0,70.1 L437.8,69.3 L438.6,68.5 L439.4,67.6 L440.3,66.6 L441.1,65.6 L441.9,64.5 L442.7,63.4 L443.6,62.3 L444.4,61.1 L445.2,59.9 L446.0,58.7 L446.8,57.5 L447.7,56.3 L448.5,55.1 L449.3,53.9 L450.1,52.7 L451.0,51.6 L451.8,50.5 L452.6,49.5 L453.4,48.5 L454.2,47.7 L455.1,46.9 L455.9,46.2 L456.7,45.6 L457.5,45.1 L458.4,44.6 L459.2,44.2 L460.0,43.9 L460.8,43.7 L461.6,43.6 L462.5,43.6 L463.3,43.7 L464.1,43.8 L464.9,44.1 L465.8,44.4 L466.6,44.8 L467.4,45.4 L468.2,46.2 L469.0,47.3 L469.9,48.7 L470.7,50.5 L471.5,52.7 L472.3,55.5 L473.1,58.7 L474.0,62.6 L474.8,67.0 L475.6,72.1 L476.4,77.6 L477.3,83.7 L478.1,90.1 L478.9,96.9 L479.7,103.9 L480.5,111.0 L481.4,118.4 L482.2,125.9 L483.0,133.4 L483.8,140.9 L484.7,148.3 L485.5,155.4 L486.3,162.2 L487.1,168.7 L487.9,174.7 L488.8,180.2 L489.6,185.2 L490.4,189.6 L491.2,193.6 L492.1,197.1 L492.9,200.2 L493.7,203.0 L494.5,205.5 L495.3,207.7 L496.2,209.8 L497.0,211.7 L497.8,213.4 L498.6,214.9 L499.5,216.4 L500.3,217.8 L501.1,219.0 L501.9,220.2 L502.7,221.3 L503.6,222.2 L504.4,223.1 L505.2,223.8 L506.0,224.5 L506.9,225.1 L507.7,225.6 L508.5,226.1 L509.3,226.6 L510.1,227.0 L511.0,227.4 L511.8,227.7 L512.6,228.1 L513.4,228.4 L514.2,228.6 L515.1,228.9 L515.9,229.1 L516.7,229.3 L517.5,229.4 L518.4,229.6 L519.2,229.7 L520.0,229.8 L520.8,230.0 L521.6,230.1 L522.5,230.2 L523.3,230.3 L524.1,230.4 L524.9,230.5 L525.8,230.6 L526.6,230.6 L527.4,230.7 L528.2,230.8 L529.0,230.8 L529.9,230.9 L530.7,230.9 L531.5,231.0 L532.3,231.0 L533.2,231.0 L534.0,231.0 L534.8,231.0" fill="none" stroke="#000000" stroke-width="1.3" stroke-linejoin="round" clip-path="url(#clipb)"/>
<path d="M329.3,213.8 L330.1,213.7 L330.9,213.7 L331.8,213.6 L332.6,213.5 L333.4,213.4 L334.2,213.3 L335.1,213.2 L335.9,213.1 L336.7,213.0 L337.5,212.9 L338.3,212.7 L339.2,212.6 L340.0,212.5 L340.8,212.4 L341.6,212.2 L342.5,212.1 L343.3,212.0 L344.1,211.8 L344.9,211.7 L345.7,211.5 L346.6,211.4 L347.4,211.2 L348.2,211.1 L349.0,210.9 L349.9,210.8 L350.7,210.6 L351.5,210.4 L352.3,210.2 L353.1,210.0 L354.0,209.8 L354.8,209.6 L355.6,209.4 L356.4,209.2 L357.2,209.0 L358.1,208.7 L358.9,208.5 L359.7,208.2 L360.5,207.9 L361.4,207.5 L362.2,207.2 L363.0,206.7 L363.8,206.2 L364.6,205.7 L365.5,205.0 L366.3,204.2 L367.1,203.4 L367.9,202.6 L368.8,201.7 L369.6,200.9 L370.4,200.1 L371.2,199.4 L372.0,198.7 L372.9,198.1 L373.7,197.4 L374.5,196.8 L375.3,196.2 L376.2,195.6 L377.0,195.0 L377.8,194.3 L378.6,193.6 L379.4,192.9 L380.3,192.1 L381.1,191.2 L381.9,190.3 L382.7,189.4 L383.6,188.4 L384.4,187.3 L385.2,186.2 L386.0,185.2 L386.8,184.0 L387.7,182.9 L388.5,181.8 L389.3,180.6 L390.1,179.4 L390.9,178.2 L391.8,176.9 L392.6,175.5 L393.4,174.1 L394.2,172.6 L395.1,171.0 L395.9,169.3 L396.7,167.6 L397.5,165.7 L398.3,163.9 L399.2,162.0 L400.0,160.0 L400.8,158.1 L401.6,156.1 L402.5,154.2 L403.3,152.2 L404.1,150.2 L404.9,148.3 L405.7,146.3 L406.6,144.3 L407.4,142.1 L408.2,140.0 L409.0,138.4 L409.9,137.3 L410.7,137.0 L411.5,137.1 L412.3,137.0 L413.1,136.1 L414.0,134.5 L414.8,132.6 L415.6,130.5 L416.4,128.5 L417.3,127.7 L418.1,126.5 L418.9,125.4 L419.7,124.6 L420.5,123.8 L421.4,123.2 L422.2,122.7 L423.0,122.2 L423.8,121.7 L424.7,121.2 L425.5,120.7 L426.3,120.3 L427.1,119.8 L427.9,119.3 L428.8,118.8 L429.6,118.3 L430.4,117.8 L431.2,117.3 L432.0,116.7 L432.9,116.1 L433.7,115.5 L434.5,114.8 L435.3,114.1 L436.2,113.2 L437.0,112.3 L437.8,111.2 L438.6,110.0 L439.4,108.7 L440.3,107.4 L441.1,105.9 L441.9,104.4 L442.7,102.8 L443.6,101.2 L444.4,99.4 L445.2,97.6 L446.0,95.8 L446.8,93.9 L447.7,91.9 L448.5,90.1 L449.3,88.3 L450.1,86.7 L451.0,85.2 L451.8,83.9 L452.6,82.8 L453.4,81.8 L454.2,80.9 L455.1,80.0 L455.9,79.3 L456.7,78.7 L457.5,78.2 L458.4,77.9 L459.2,77.7 L460.0,77.7 L460.8,77.8 L461.6,78.1 L462.5,78.6 L463.3,79.3 L464.1,80.1 L464.9,81.1 L465.8,82.4 L466.6,84.0 L467.4,86.0 L468.2,88.4 L469.0,91.1 L469.9,94.2 L470.7,97.5 L471.5,101.1 L472.3,105.1 L473.1,109.3 L474.0,113.9 L474.8,118.9 L475.6,124.3 L476.4,130.2 L477.3,136.5 L478.1,143.0 L478.9,149.7 L479.7,156.5 L480.5,163.2 L481.4,169.6 L482.2,175.8 L483.0,181.5 L483.8,186.7 L484.7,191.4 L485.5,195.4 L486.3,199.0 L487.1,202.1 L487.9,204.8 L488.8,207.2 L489.6,209.3 L490.4,211.2 L491.2,212.8 L492.1,214.3 L492.9,215.7 L493.7,216.9 L494.5,218.1 L495.3,219.2 L496.2,220.2 L497.0,221.1 L497.8,221.9 L498.6,222.6 L499.5,223.3 L500.3,223.8 L501.1,224.3 L501.9,224.8 L502.7,225.1 L503.6,225.5 L504.4,225.8 L505.2,226.1 L506.0,226.4 L506.9,226.7 L507.7,227.0 L508.5,227.3 L509.3,227.5 L510.1,227.8 L511.0,228.0 L511.8,228.3 L512.6,228.5 L513.4,228.7 L514.2,229.0 L515.1,229.2 L515.9,229.4 L516.7,229.6 L517.5,229.7 L518.4,229.9 L519.2,230.1 L520.0,230.3 L520.8,230.4 L521.6,230.6 L522.5,230.7 L523.3,230.8 L524.1,230.9 L524.9,231.1 L525.8,231.2 L526.6,231.3 L527.4,231.3 L528.2,231.4 L529.0,231.5 L529.9,231.5 L530.7,231.6 L531.5,231.6 L532.3,231.7 L533.2,231.7 L534.0,231.7 L534.8,231.7" fill="none" stroke="#ff0000" stroke-width="1.3" stroke-linejoin="round" clip-path="url(#clipb)"/>
<path d="M329.3,215.9 L330.1,215.8 L330.9,215.8 L331.8,215.7 L332.6,215.7 L333.4,215.6 L334.2,215.5 L335.1,215.4 L335.9,215.3 L336.7,215.2 L337.5,215.1 L338.3,215.0 L339.2,214.9 L340.0,214.8 L340.8,214.6 L341.6,214.5 L342.5,214.4 L343.3,214.2 L344.1,214.1 L344.9,213.9 L345.7,213.8 L346.6,213.6 L347.4,213.5 L348.2,213.3 L349.0,213.1 L349.9,212.9 L350.7,212.7 L351.5,212.5 L352.3,212.3 L353.1,212.1 L354.0,211.9 L354.8,211.7 L355.6,211.4 L356.4,211.2 L357.2,210.9 L358.1,210.6 L358.9,210.3 L359.7,210.1 L360.5,209.7 L361.4,209.4 L362.2,209.1 L363.0,208.7 L363.8,208.4 L364.6,208.0 L365.5,207.5 L366.3,207.1 L367.1,206.5 L367.9,206.0 L368.8,205.4 L369.6,204.7 L370.4,204.1 L371.2,203.3 L372.0,202.6 L372.9,201.8 L373.7,201.0 L374.5,200.2 L375.3,199.3 L376.2,198.5 L377.0,197.6 L377.8,196.7 L378.6,195.8 L379.4,194.9 L380.3,194.0 L381.1,193.1 L381.9,192.1 L382.7,191.2 L383.6,190.2 L384.4,189.2 L385.2,188.1 L386.0,187.0 L386.8,185.9 L387.7,184.8 L388.5,183.7 L389.3,182.5 L390.1,181.3 L390.9,180.1 L391.8,178.8 L392.6,177.5 L393.4,176.1 L394.2,174.7 L395.1,173.3 L395.9,171.8 L396.7,170.2 L397.5,168.6 L398.3,167.0 L399.2,165.3 L400.0,163.6 L400.8,161.9 L401.6,160.1 L402.5,158.3 L403.3,156.6 L404.1,154.9 L404.9,153.2 L405.7,151.5 L406.6,149.7 L407.4,148.0 L408.2,146.3 L409.0,145.0 L409.9,144.2 L410.7,144.1 L411.5,144.6 L412.3,145.0 L413.1,145.0 L414.0,144.7 L414.8,144.1 L415.6,143.4 L416.4,142.6 L417.3,141.6 L418.1,140.8 L418.9,140.0 L419.7,139.3 L420.5,138.6 L421.4,137.9 L422.2,137.3 L423.0,136.7 L423.8,136.2 L424.7,135.6 L425.5,135.1 L426.3,134.6 L427.1,134.1 L427.9,133.6 L428.8,133.1 L429.6,132.5 L430.4,132.0 L431.2,131.4 L432.0,130.7 L432.9,130.1 L433.7,129.4 L434.5,128.6 L435.3,127.9 L436.2,127.1 L437.0,126.3 L437.8,125.5 L438.6,124.7 L439.4,123.9 L440.3,123.1 L441.1,122.3 L441.9,121.5 L442.7,120.8 L443.6,120.1 L444.4,119.4 L445.2,118.7 L446.0,118.0 L446.8,117.3 L447.7,116.7 L448.5,116.0 L449.3,115.4 L450.1,114.8 L451.0,114.3 L451.8,113.8 L452.6,113.4 L453.4,113.2 L454.2,113.0 L455.1,112.9 L455.9,112.9 L456.7,113.0 L457.5,113.3 L458.4,113.6 L459.2,114.0 L460.0,114.6 L460.8,115.2 L461.6,116.0 L462.5,117.0 L463.3,118.2 L464.1,119.6 L464.9,121.2 L465.8,123.1 L466.6,125.2 L467.4,127.4 L468.2,129.7 L469.0,132.2 L469.9,134.7 L470.7,137.4 L471.5,140.3 L472.3,143.3 L473.1,146.5 L474.0,149.9 L474.8,153.7 L475.6,157.8 L476.4,162.2 L477.3,167.0 L478.1,172.1 L478.9,177.2 L479.7,182.1 L480.5,186.7 L481.4,190.9 L482.2,194.6 L483.0,197.9 L483.8,200.8 L484.7,203.4 L485.5,205.7 L486.3,207.7 L487.1,209.6 L487.9,211.2 L488.8,212.7 L489.6,214.1 L490.4,215.3 L491.2,216.5 L492.1,217.6 L492.9,218.7 L493.7,219.6 L494.5,220.6 L495.3,221.4 L496.2,222.2 L497.0,223.0 L497.8,223.7 L498.6,224.3 L499.5,224.8 L500.3,225.3 L501.1,225.7 L501.9,226.1 L502.7,226.5 L503.6,226.8 L504.4,227.2 L505.2,227.5 L506.0,227.8 L506.9,228.0 L507.7,228.3 L508.5,228.6 L509.3,228.9 L510.1,229.1 L511.0,229.4 L511.8,229.6 L512.6,229.9 L513.4,230.1 L514.2,230.4 L515.1,230.6 L515.9,230.8 L516.7,231.0 L517.5,231.2 L518.4,231.4 L519.2,231.6 L520.0,231.7 L520.8,231.9 L521.6,232.0 L522.5,232.2 L523.3,232.3 L524.1,232.5 L524.9,232.6 L525.8,232.7 L526.6,232.8 L527.4,232.9 L528.2,233.0 L529.0,233.0 L529.9,233.1 L530.7,233.2 L531.5,233.2 L532.3,233.2 L533.2,233.3 L534.0,233.3 L534.8,233.3" fill="none" stroke="#0000ff" stroke-width="1.3" stroke-linejoin="round" clip-path="url(#clipb)"/>
<path d="M329.3,220.0 L330.1,220.0 L330.9,220.0 L331.8,219.9 L332.6,219.9 L333.4,219.9 L334.2,219.8 L335.1,219.8 L335.9,219.7 L336.7,219.6 L337.5,219.5 L338.3,219.5 L339.2,219.4 L340.0,219.3 L340.8,219.2 L341.6,219.1 L342.5,219.0 L343.3,218.9 L344.1,218.8 L344.9,218.6 L345.7,218.5 L346.6,218.3 L347.4,218.2 L348.2,218.0 L349.0,217.8 L349.9,217.5 L350.7,217.3 L351.5,217.1 L352.3,216.8 L353.1,216.5 L354.0,216.3 L354.8,216.0 L355.6,215.7 L356.4,215.5 L357.2,215.2 L358.1,214.9 L358.9,214.7 L359.7,214.4 L360.5,214.2 L361.4,213.9 L362.2,213.7 L363.0,213.4 L363.8,213.2 L364.6,212.9 L365.5,212.7 L366.3,212.4 L367.1,212.2 L367.9,212.0 L368.8,211.7 L369.6,211.5 L370.4,211.2 L371.2,210.9 L372.0,210.7 L372.9,210.4 L373.7,210.1 L374.5,209.9 L375.3,209.6 L376.2,209.3 L377.0,209.0 L377.8,208.7 L378.6,208.4 L379.4,208.0 L380.3,207.6 L381.1,207.2 L381.9,206.7 L382.7,206.2 L383.6,205.7 L384.4,205.1 L385.2,204.5 L386.0,203.8 L386.8,203.2 L387.7,202.5 L388.5,201.9 L389.3,201.2 L390.1,200.5 L390.9,199.8 L391.8,199.1 L392.6,198.4 L393.4,197.7 L394.2,196.9 L395.1,196.2 L395.9,195.4 L396.7,194.7 L397.5,193.9 L398.3,193.1 L399.2,192.4 L400.0,191.7 L400.8,190.9 L401.6,190.2 L402.5,189.5 L403.3,188.8 L404.1,188.1 L404.9,187.4 L405.7,186.7 L406.6,186.0 L407.4,185.3 L408.2,184.6 L409.0,184.0 L409.9,183.3 L410.7,182.6 L411.5,182.0 L412.3,181.7 L413.1,181.6 L414.0,181.3 L414.8,181.0 L415.6,180.5 L416.4,180.0 L417.3,179.4 L418.1,178.9 L418.9,178.3 L419.7,177.7 L420.5,177.2 L421.4,176.6 L422.2,176.1 L423.0,175.6 L423.8,175.1 L424.7,174.6 L425.5,174.1 L426.3,173.6 L427.1,173.1 L427.9,172.7 L428.8,172.2 L429.6,171.8 L430.4,171.3 L431.2,170.8 L432.0,170.4 L432.9,170.0 L433.7,169.5 L434.5,169.1 L435.3,168.6 L436.2,168.2 L437.0,167.8 L437.8,167.3 L438.6,166.9 L439.4,166.5 L440.3,166.0 L441.1,165.6 L441.9,165.2 L442.7,164.9 L443.6,164.5 L444.4,164.2 L445.2,163.9 L446.0,163.6 L446.8,163.3 L447.7,163.1 L448.5,162.9 L449.3,162.7 L450.1,162.5 L451.0,162.4 L451.8,162.4 L452.6,162.4 L453.4,162.6 L454.2,162.8 L455.1,163.1 L455.9,163.6 L456.7,164.1 L457.5,164.7 L458.4,165.5 L459.2,166.4 L460.0,167.3 L460.8,168.4 L461.6,169.6 L462.5,170.8 L463.3,172.1 L464.1,173.4 L464.9,174.8 L465.8,176.2 L466.6,177.6 L467.4,179.1 L468.2,180.7 L469.0,182.3 L469.9,184.0 L470.7,185.7 L471.5,187.6 L472.3,189.5 L473.1,191.5 L474.0,193.4 L474.8,195.4 L475.6,197.3 L476.4,199.1 L477.3,200.9 L478.1,202.5 L478.9,204.1 L479.7,205.6 L480.5,207.0 L481.4,208.4 L482.2,209.8 L483.0,211.1 L483.8,212.3 L484.7,213.4 L485.5,214.5 L486.3,215.5 L487.1,216.4 L487.9,217.3 L488.8,218.0 L489.6,218.7 L490.4,219.3 L491.2,219.9 L492.1,220.5 L492.9,221.0 L493.7,221.5 L494.5,222.0 L495.3,222.4 L496.2,222.9 L497.0,223.3 L497.8,223.7 L498.6,224.0 L499.5,224.4 L500.3,224.7 L501.1,225.0 L501.9,225.3 L502.7,225.5 L503.6,225.7 L504.4,226.0 L505.2,226.2 L506.0,226.4 L506.9,226.6 L507.7,226.7 L508.5,226.9 L509.3,227.1 L510.1,227.2 L511.0,227.4 L511.8,227.6 L512.6,227.7 L513.4,227.9 L514.2,228.0 L515.1,228.2 L515.9,228.3 L516.7,228.5 L517.5,228.6 L518.4,228.7 L519.2,228.9 L520.0,229.0 L520.8,229.1 L521.6,229.2 L522.5,229.3 L523.3,229.4 L524.1,229.5 L524.9,229.6 L525.8,229.7 L526.6,229.8 L527.4,229.8 L528.2,229.9 L529.0,230.0 L529.9,230.0 L530.7,230.0 L531.5,230.1 L532.3,230.1 L533.2,230.1 L534.0,230.1 L534.8,230.1" fill="none" stroke="#ff00ff" stroke-width="1.3" stroke-linejoin="round" clip-path="url(#clipb)"/>
<path d="M329.3,221.8 L330.1,221.8 L330.9,221.8 L331.8,221.8 L332.6,221.8 L333.4,221.8 L334.2,221.8 L335.1,221.8 L335.9,221.8 L336.7,221.8 L337.5,221.8 L338.3,221.8 L339.2,221.8 L340.0,221.8 L340.8,221.8 L341.6,221.8 L342.5,221.8 L343.3,221.8 L344.1,221.8 L344.9,221.8 L345.7,221.8 L346.6,221.8 L347.4,221.7 L348.2,221.7 L349.0,221.7 L349.9,221.6 L350.7,221.6 L351.5,221.5 L352.3,221.4 L353.1,221.3 L354.0,221.3 L354.8,221.2 L355.6,221.1 L356.4,221.0 L357.2,220.9 L358.1,220.8 L358.9,220.7 L359.7,220.6 L360.5,220.5 L361.4,220.4 L362.2,220.3 L363.0,220.2 L363.8,220.1 L364.6,220.0 L365.5,219.9 L366.3,219.8 L367.1,219.8 L367.9,219.7 L368.8,219.6 L369.6,219.5 L370.4,219.4 L371.2,219.3 L372.0,219.2 L372.9,219.1 L373.7,219.0 L374.5,218.9 L375.3,218.8 L376.2,218.6 L377.0,218.5 L377.8,218.4 L378.6,218.2 L379.4,218.0 L380.3,217.9 L381.1,217.7 L381.9,217.4 L382.7,217.2 L383.6,216.9 L384.4,216.6 L385.2,216.3 L386.0,216.0 L386.8,215.7 L387.7,215.4 L388.5,215.2 L389.3,214.9 L390.1,214.6 L390.9,214.4 L391.8,214.1 L392.6,213.9 L393.4,213.7 L394.2,213.5 L395.1,213.3 L395.9,213.0 L396.7,212.8 L397.5,212.6 L398.3,212.4 L399.2,212.1 L400.0,211.9 L400.8,211.6 L401.6,211.3 L402.5,211.1 L403.3,210.8 L404.1,210.5 L404.9,210.3 L405.7,210.0 L406.6,209.7 L407.4,209.5 L408.2,209.3 L409.0,209.1 L409.9,208.9 L410.7,208.8 L411.5,208.7 L412.3,208.5 L413.1,208.4 L414.0,208.3 L414.8,208.2 L415.6,208.1 L416.4,208.0 L417.3,207.8 L418.1,207.7 L418.9,207.6 L419.7,207.4 L420.5,207.2 L421.4,207.1 L422.2,206.9 L423.0,206.7 L423.8,206.5 L424.7,206.3 L425.5,206.1 L426.3,205.9 L427.1,205.7 L427.9,205.6 L428.8,205.5 L429.6,205.3 L430.4,205.2 L431.2,205.1 L432.0,205.0 L432.9,204.9 L433.7,204.8 L434.5,204.7 L435.3,204.6 L436.2,204.5 L437.0,204.4 L437.8,204.3 L438.6,204.3 L439.4,204.2 L440.3,204.2 L441.1,204.1 L441.9,204.1 L442.7,204.1 L443.6,204.1 L444.4,204.1 L445.2,204.1 L446.0,204.2 L446.8,204.3 L447.7,204.4 L448.5,204.6 L449.3,204.7 L450.1,204.9 L451.0,205.1 L451.8,205.3 L452.6,205.5 L453.4,205.8 L454.2,206.0 L455.1,206.3 L455.9,206.5 L456.7,206.8 L457.5,207.1 L458.4,207.4 L459.2,207.7 L460.0,208.1 L460.8,208.4 L461.6,208.8 L462.5,209.2 L463.3,209.6 L464.1,209.9 L464.9,210.3 L465.8,210.7 L466.6,211.1 L467.4,211.5 L468.2,211.9 L469.0,212.2 L469.9,212.6 L470.7,213.0 L471.5,213.3 L472.3,213.7 L473.1,214.1 L474.0,214.5 L474.8,214.8 L475.6,215.2 L476.4,215.6 L477.3,216.0 L478.1,216.3 L478.9,216.7 L479.7,217.0 L480.5,217.3 L481.4,217.7 L482.2,218.0 L483.0,218.2 L483.8,218.5 L484.7,218.7 L485.5,219.0 L486.3,219.2 L487.1,219.4 L487.9,219.5 L488.8,219.7 L489.6,219.9 L490.4,220.0 L491.2,220.1 L492.1,220.3 L492.9,220.4 L493.7,220.5 L494.5,220.7 L495.3,220.8 L496.2,220.9 L497.0,221.0 L497.8,221.1 L498.6,221.2 L499.5,221.3 L500.3,221.4 L501.1,221.5 L501.9,221.6 L502.7,221.7 L503.6,221.8 L504.4,221.9 L505.2,222.0 L506.0,222.1 L506.9,222.2 L507.7,222.3 L508.5,222.4 L509.3,222.5 L510.1,222.6 L511.0,222.7 L511.8,222.8 L512.6,222.9 L513.4,223.0 L514.2,223.1 L515.1,223.1 L515.9,223.2 L516.7,223.3 L517.5,223.4 L518.4,223.5 L519.2,223.6 L520.0,223.6 L520.8,223.7 L521.6,223.8 L522.5,223.9 L523.3,223.9 L524.1,224.0 L524.9,224.1 L525.8,224.1 L526.6,224.2 L527.4,224.3 L528.2,224.3 L529.0,224.4 L529.9,224.4 L530.7,224.5 L531.5,224.5 L532.3,224.6 L533.2,224.6 L534.0,224.6 L534.8,224.7" fill="none" stroke="#008000" stroke-width="1.3" stroke-linejoin="round" clip-path="url(#clipb)"/>
<path d="M329.3,221.8 L330.1,221.8 L330.9,221.8 L331.8,221.8 L332.6,221.8 L333.4,221.8 L334.2,221.8 L335.1,221.8 L335.9,221.8 L336.7,221.8 L337.5,221.8 L338.3,221.8 L339.2,221.8 L340.0,221.8 L340.8,221.8 L341.6,221.8 L342.5,221.8 L343.3,221.8 L344.1,221.8 L344.9,221.8 L345.7,221.8 L346.6,221.8 L347.4,221.8 L348.2,221.8 L349.0,221.8 L349.9,221.8 L350.7,221.8 L351.5,221.8 L352.3,221.7 L353.1,221.7 L354.0,221.7 L354.8,221.7 L355.6,221.7 L356.4,221.6 L357.2,221.6 L358.1,221.6 L358.9,221.6 L359.7,221.5 L360.5,221.5 L361.4,221.5 L362.2,221.5 L363.0,221.4 L363.8,221.4 L364.6,221.4 L365.5,221.3 L366.3,221.3 L367.1,221.3 L367.9,221.2 L368.8,221.2 L369.6,221.1 L370.4,221.0 L371.2,221.0 L372.0,220.9 L372.9,220.8 L373.7,220.8 L374.5,220.7 L375.3,220.6 L376.2,220.5 L377.0,220.4 L377.8,220.3 L378.6,220.2 L379.4,220.0 L380.3,219.9 L381.1,219.7 L381.9,219.5 L382.7,219.3 L383.6,219.1 L384.4,218.8 L385.2,218.5 L386.0,218.3 L386.8,218.0 L387.7,217.8 L388.5,217.6 L389.3,217.4 L390.1,217.2 L390.9,217.1 L391.8,217.0 L392.6,216.9 L393.4,216.8 L394.2,216.7 L395.1,216.6 L395.9,216.5 L396.7,216.4 L397.5,216.3 L398.3,216.2 L399.2,216.1 L400.0,215.9 L400.8,215.8 L401.6,215.6 L402.5,215.5 L403.3,215.3 L404.1,215.1 L404.9,214.9 L405.7,214.8 L406.6,214.6 L407.4,214.4 L408.2,214.2 L409.0,214.0 L409.9,213.9 L410.7,213.8 L411.5,213.6 L412.3,213.5 L413.1,213.3 L414.0,213.2 L414.8,213.1 L415.6,213.0 L416.4,212.9 L417.3,212.7 L418.1,212.6 L418.9,212.5 L419.7,212.4 L420.5,212.3 L421.4,212.2 L422.2,212.1 L423.0,212.0 L423.8,211.9 L424.7,211.8 L425.5,211.7 L426.3,211.6 L427.1,211.5 L427.9,211.4 L428.8,211.4 L429.6,211.3 L430.4,211.2 L431.2,211.1 L432.0,211.1 L432.9,211.0 L433.7,210.9 L434.5,210.9 L435.3,210.8 L436.2,210.8 L437.0,210.7 L437.8,210.7 L438.6,210.6 L439.4,210.6 L440.3,210.6 L441.1,210.6 L441.9,210.6 L442.7,210.6 L443.6,210.7 L444.4,210.8 L445.2,210.8 L446.0,210.9 L446.8,211.0 L447.7,211.2 L448.5,211.3 L449.3,211.4 L450.1,211.6 L451.0,211.7 L451.8,211.9 L452.6,212.1 L453.4,212.2 L454.2,212.4 L455.1,212.6 L455.9,212.8 L456.7,212.9 L457.5,213.1 L458.4,213.4 L459.2,213.6 L460.0,213.8 L460.8,214.1 L461.6,214.3 L462.5,214.6 L463.3,214.8 L464.1,215.1 L464.9,215.3 L465.8,215.5 L466.6,215.8 L467.4,216.0 L468.2,216.2 L469.0,216.4 L469.9,216.6 L470.7,216.8 L471.5,217.0 L472.3,217.2 L473.1,217.3 L474.0,217.5 L474.8,217.7 L475.6,217.8 L476.4,218.0 L477.3,218.1 L478.1,218.3 L478.9,218.4 L479.7,218.6 L480.5,218.7 L481.4,218.9 L482.2,219.0 L483.0,219.1 L483.8,219.3 L484.7,219.4 L485.5,219.5 L486.3,219.6 L487.1,219.7 L487.9,219.8 L488.8,220.0 L489.6,220.1 L490.4,220.2 L491.2,220.3 L492.1,220.4 L492.9,220.5 L493.7,220.6 L494.5,220.7 L495.3,220.8 L496.2,220.8 L497.0,220.9 L497.8,221.0 L498.6,221.1 L499.5,221.2 L500.3,221.3 L501.1,221.4 L501.9,221.5 L502.7,221.6 L503.6,221.6 L504.4,221.7 L505.2,221.8 L506.0,221.9 L506.9,222.0 L507.7,222.1 L508.5,222.2 L509.3,222.3 L510.1,222.3 L511.0,222.4 L511.8,222.5 L512.6,222.6 L513.4,222.7 L514.2,222.8 L515.1,222.9 L515.9,223.0 L516.7,223.1 L517.5,223.2 L518.4,223.2 L519.2,223.3 L520.0,223.4 L520.8,223.5 L521.6,223.6 L522.5,223.7 L523.3,223.8 L524.1,223.9 L524.9,224.0 L525.8,224.0 L526.6,224.1 L527.4,224.2 L528.2,224.3 L529.0,224.4 L529.9,224.5 L530.7,224.5 L531.5,224.6 L532.3,224.7 L533.2,224.7 L534.0,224.8 L534.8,224.8" fill="none" stroke="#000080" stroke-width="1.3" stroke-linejoin="round" clip-path="url(#clipb)"/>
<rect x="329.3" y="10.4" width="205.49999999999994" height="225.4" fill="none" stroke="#1a1a1a" stroke-width="1.4"/>
<line x1="329.30" y1="235.8" x2="329.30" y2="240.3" stroke="#1a1a1a" stroke-width="1.3"/>
<text x="329.30" y="254.00" font-size="13.4" font-weight="normal" text-anchor="middle" fill="#1a1a1a" stroke="#1a1a1a" >500</text>
<line x1="349.85" y1="235.8" x2="349.85" y2="238.3" stroke="#1a1a1a" stroke-width="1.3"/>
<line x1="370.40" y1="235.8" x2="370.40" y2="240.3" stroke="#1a1a1a" stroke-width="1.3"/>
<text x="370.40" y="254.00" font-size="13.4" font-weight="normal" text-anchor="middle" fill="#1a1a1a" stroke="#1a1a1a" >550</text>
<line x1="390.95" y1="235.8" x2="390.95" y2="238.3" stroke="#1a1a1a" stroke-width="1.3"/>
<line x1="411.50" y1="235.8" x2="411.50" y2="240.3" stroke="#1a1a1a" stroke-width="1.3"/>
<text x="411.50" y="254.00" font-size="13.4" font-weight="normal" text-anchor="middle" fill="#1a1a1a" stroke="#1a1a1a" >600</text>
<line x1="432.05" y1="235.8" x2="432.05" y2="238.3" stroke="#1a1a1a" stroke-width="1.3"/>
<line x1="452.60" y1="235.8" x2="452.60" y2="240.3" stroke="#1a1a1a" stroke-width="1.3"/>
<text x="452.60" y="254.00" font-size="13.4" font-weight="normal" text-anchor="middle" fill="#1a1a1a" stroke="#1a1a1a" >650</text>
<line x1="473.15" y1="235.8" x2="473.15" y2="238.3" stroke="#1a1a1a" stroke-width="1.3"/>
<line x1="493.70" y1="235.8" x2="493.70" y2="240.3" stroke="#1a1a1a" stroke-width="1.3"/>
<text x="493.70" y="254.00" font-size="13.4" font-weight="normal" text-anchor="middle" fill="#1a1a1a" stroke="#1a1a1a" >700</text>
<line x1="514.25" y1="235.8" x2="514.25" y2="238.3" stroke="#1a1a1a" stroke-width="1.3"/>
<line x1="534.80" y1="235.8" x2="534.80" y2="240.3" stroke="#1a1a1a" stroke-width="1.3"/>
<text x="534.80" y="254.00" font-size="13.4" font-weight="normal" text-anchor="middle" fill="#1a1a1a" stroke="#1a1a1a" >750</text>
<line x1="324.8" y1="235.80" x2="329.3" y2="235.80" stroke="#1a1a1a" stroke-width="1.3"/>
<text x="321.30" y="239.90" font-size="13.4" font-weight="normal" text-anchor="end" fill="#1a1a1a" stroke="#1a1a1a" >0.0</text>
<line x1="326.8" y1="213.26" x2="329.3" y2="213.26" stroke="#1a1a1a" stroke-width="1.3"/>
<line x1="324.8" y1="190.72" x2="329.3" y2="190.72" stroke="#1a1a1a" stroke-width="1.3"/>
<text x="321.30" y="194.82" font-size="13.4" font-weight="normal" text-anchor="end" fill="#1a1a1a" stroke="#1a1a1a" >0.2</text>
<line x1="326.8" y1="168.18" x2="329.3" y2="168.18" stroke="#1a1a1a" stroke-width="1.3"/>
<line x1="324.8" y1="145.64" x2="329.3" y2="145.64" stroke="#1a1a1a" stroke-width="1.3"/>
<text x="321.30" y="149.74" font-size="13.4" font-weight="normal" text-anchor="end" fill="#1a1a1a" stroke="#1a1a1a" >0.4</text>
<line x1="326.8" y1="123.10" x2="329.3" y2="123.10" stroke="#1a1a1a" stroke-width="1.3"/>
<line x1="324.8" y1="100.56" x2="329.3" y2="100.56" stroke="#1a1a1a" stroke-width="1.3"/>
<text x="321.30" y="104.66" font-size="13.4" font-weight="normal" text-anchor="end" fill="#1a1a1a" stroke="#1a1a1a" >0.6</text>
<line x1="326.8" y1="78.02" x2="329.3" y2="78.02" stroke="#1a1a1a" stroke-width="1.3"/>
<line x1="324.8" y1="55.48" x2="329.3" y2="55.48" stroke="#1a1a1a" stroke-width="1.3"/>
<text x="321.30" y="59.58" font-size="13.4" font-weight="normal" text-anchor="end" fill="#1a1a1a" stroke="#1a1a1a" >0.8</text>
<line x1="326.8" y1="32.94" x2="329.3" y2="32.94" stroke="#1a1a1a" stroke-width="1.3"/>
<line x1="324.8" y1="10.40" x2="329.3" y2="10.40" stroke="#1a1a1a" stroke-width="1.3"/>
<text x="321.30" y="14.50" font-size="13.4" font-weight="normal" text-anchor="end" fill="#1a1a1a" stroke="#1a1a1a" >1.0</text>
<text x="432.05" y="277.20" font-size="13.9" font-weight="normal" text-anchor="middle" fill="#1a1a1a" stroke="#1a1a1a" >Wavelength (nm)</text>
<text x="0" y="0" font-size="13.6" text-anchor="middle" fill="#1a1a1a" transform="translate(290.40000000000003,117.60000000000001) rotate(-90)">Absorption</text>
<line x1="333.3" y1="37.10" x2="359.8" y2="37.10" stroke="#000000" stroke-width="1.4"/>
<text x="362.80" y="41.30" font-size="12" font-weight="normal" text-anchor="start" fill="#1a1a1a" stroke="#1a1a1a" >0 h</text>
<line x1="333.3" y1="51.50" x2="359.8" y2="51.50" stroke="#ff0000" stroke-width="1.4"/>
<text x="362.80" y="55.70" font-size="12" font-weight="normal" text-anchor="start" fill="#1a1a1a" stroke="#1a1a1a" >0.5 h</text>
<line x1="333.3" y1="65.90" x2="359.8" y2="65.90" stroke="#0000ff" stroke-width="1.4"/>
<text x="362.80" y="70.10" font-size="12" font-weight="normal" text-anchor="start" fill="#1a1a1a" stroke="#1a1a1a" >1.0 h</text>
<line x1="333.3" y1="80.30" x2="359.8" y2="80.30" stroke="#ff00ff" stroke-width="1.4"/>
<text x="362.80" y="84.50" font-size="12" font-weight="normal" text-anchor="start" fill="#1a1a1a" stroke="#1a1a1a" >2.0 h</text>
<line x1="333.3" y1="94.70" x2="359.8" y2="94.70" stroke="#008000" stroke-width="1.4"/>
<text x="362.80" y="98.90" font-size="12" font-weight="normal" text-anchor="start" fill="#1a1a1a" stroke="#1a1a1a" >2.5 h</text>
<line x1="333.3" y1="109.10" x2="359.8" y2="109.10" stroke="#000080" stroke-width="1.4"/>
<text x="362.80" y="113.30" font-size="12" font-weight="normal" text-anchor="start" fill="#1a1a1a" stroke="#1a1a1a" >3.0 h</text>
<text x="531.50" y="24.40" font-size="10.6" font-weight="bold" text-anchor="end" fill="#0000ff" stroke="#0000ff" >Au NPs-Au NRs-TNWs/TNAs (S4)</text>
<text x="521.60" y="47.20" font-size="15.5" font-weight="bold" text-anchor="end" fill="#1a1a1a" stroke="#1a1a1a" >(b)</text>
<path d="M60.83,306.70 L92.48,313.35 L124.14,322.44 L187.45,340.78 L219.10,348.57 L250.76,356.36" fill="none" stroke="#000" stroke-width="1.2"/>
<path d="M60.83,306.70 C66.10,308.54 81.93,313.90 92.48,317.74 C103.03,321.58 108.31,321.82 124.14,329.75 C139.97,337.67 171.62,355.82 187.45,365.29 C203.28,374.76 208.55,381.36 219.10,386.55 C229.65,391.75 245.48,394.80 250.76,396.45" fill="none" stroke="#ff0000" stroke-width="1.2"/>
<path d="M60.83,306.70 C66.10,311.60 81.93,326.42 92.48,336.08 C103.03,345.73 108.31,352.98 124.14,364.64 C139.97,376.30 171.62,393.21 187.45,406.03 C203.28,418.85 210.87,434.48 219.10,441.57 C227.33,448.66 231.55,447.52 236.83,448.55 C242.11,449.58 248.44,447.87 250.76,447.74" fill="none" stroke="#0000ff" stroke-width="1.2"/>
<rect x="58.33" y="304.20" width="5.00" height="5.00" fill="#000"/>
<rect x="89.98" y="310.85" width="5.00" height="5.00" fill="#000"/>
<rect x="121.64" y="319.94" width="5.00" height="5.00" fill="#000"/>
<rect x="184.95" y="338.28" width="5.00" height="5.00" fill="#000"/>
<rect x="216.60" y="346.07" width="5.00" height="5.00" fill="#000"/>
<rect x="248.26" y="353.86" width="5.00" height="5.00" fill="#000"/>
<circle cx="60.83" cy="306.70" r="3.00" fill="#ff0000"/>
<circle cx="92.48" cy="317.74" r="3.00" fill="#ff0000"/>
<circle cx="124.14" cy="329.75" r="3.00" fill="#ff0000"/>
<circle cx="187.45" cy="365.29" r="3.00" fill="#ff0000"/>
<circle cx="219.10" cy="386.55" r="3.00" fill="#ff0000"/>
<circle cx="250.76" cy="396.45" r="3.00" fill="#ff0000"/>
<path d="M60.83,302.90 L64.44,309.06 L57.22,309.06 Z" fill="#0000ff"/>
<path d="M92.48,332.28 L96.09,338.43 L88.87,338.43 Z" fill="#0000ff"/>
<path d="M124.14,360.84 L127.75,367.00 L120.53,367.00 Z" fill="#0000ff"/>
<path d="M187.45,402.23 L191.06,408.38 L183.84,408.38 Z" fill="#0000ff"/>
<path d="M219.10,437.77 L222.71,443.93 L215.49,443.93 Z" fill="#0000ff"/>
<path d="M250.76,443.94 L254.37,450.09 L247.15,450.09 Z" fill="#0000ff"/>
<rect x="45.0" y="290.6" width="221.60000000000002" height="178.39999999999998" fill="none" stroke="#444" stroke-width="1.4"/>
<line x1="60.83" y1="469.0" x2="60.83" y2="472.7" stroke="#333" stroke-width="1.2"/>
<text x="60.83" y="483.60" font-size="10.5" font-weight="bold" text-anchor="middle" fill="#1a1a1a" stroke="#1a1a1a" >0.0</text>
<line x1="76.66" y1="469.0" x2="76.66" y2="471.3" stroke="#333" stroke-width="1.2"/>
<line x1="92.48" y1="469.0" x2="92.48" y2="472.7" stroke="#333" stroke-width="1.2"/>
<text x="92.48" y="483.60" font-size="10.5" font-weight="bold" text-anchor="middle" fill="#1a1a1a" stroke="#1a1a1a" >0.5</text>
<line x1="108.31" y1="469.0" x2="108.31" y2="471.3" stroke="#333" stroke-width="1.2"/>
<line x1="124.14" y1="469.0" x2="124.14" y2="472.7" stroke="#333" stroke-width="1.2"/>
<text x="124.14" y="483.60" font-size="10.5" font-weight="bold" text-anchor="middle" fill="#1a1a1a" stroke="#1a1a1a" >1.0</text>
<line x1="139.97" y1="469.0" x2="139.97" y2="471.3" stroke="#333" stroke-width="1.2"/>
<line x1="155.79" y1="469.0" x2="155.79" y2="472.7" stroke="#333" stroke-width="1.2"/>
<text x="155.79" y="483.60" font-size="10.5" font-weight="bold" text-anchor="middle" fill="#1a1a1a" stroke="#1a1a1a" >1.5</text>
<line x1="171.62" y1="469.0" x2="171.62" y2="471.3" stroke="#333" stroke-width="1.2"/>
<line x1="187.45" y1="469.0" x2="187.45" y2="472.7" stroke="#333" stroke-width="1.2"/>
<text x="187.45" y="483.60" font-size="10.5" font-weight="bold" text-anchor="middle" fill="#1a1a1a" stroke="#1a1a1a" >2.0</text>
<line x1="203.28" y1="469.0" x2="203.28" y2="471.3" stroke="#333" stroke-width="1.2"/>
<line x1="219.10" y1="469.0" x2="219.10" y2="472.7" stroke="#333" stroke-width="1.2"/>
<text x="219.10" y="483.60" font-size="10.5" font-weight="bold" text-anchor="middle" fill="#1a1a1a" stroke="#1a1a1a" >2.5</text>
<line x1="234.93" y1="469.0" x2="234.93" y2="471.3" stroke="#333" stroke-width="1.2"/>
<line x1="250.76" y1="469.0" x2="250.76" y2="472.7" stroke="#333" stroke-width="1.2"/>
<text x="250.76" y="483.60" font-size="10.5" font-weight="bold" text-anchor="middle" fill="#1a1a1a" stroke="#1a1a1a" >3.0</text>
<line x1="266.59" y1="469.0" x2="266.59" y2="471.3" stroke="#333" stroke-width="1.2"/>
<line x1="41.3" y1="469.00" x2="45.0" y2="469.00" stroke="#333" stroke-width="1.2"/>
<text x="38.50" y="472.70" font-size="10.5" font-weight="bold" text-anchor="end" fill="#1a1a1a" stroke="#1a1a1a" >0.0</text>
<line x1="42.7" y1="452.77" x2="45.0" y2="452.77" stroke="#333" stroke-width="1.2"/>
<line x1="41.3" y1="436.54" x2="45.0" y2="436.54" stroke="#333" stroke-width="1.2"/>
<text x="38.50" y="440.24" font-size="10.5" font-weight="bold" text-anchor="end" fill="#1a1a1a" stroke="#1a1a1a" >0.2</text>
<line x1="42.7" y1="420.31" x2="45.0" y2="420.31" stroke="#333" stroke-width="1.2"/>
<line x1="41.3" y1="404.08" x2="45.0" y2="404.08" stroke="#333" stroke-width="1.2"/>
<text x="38.50" y="407.78" font-size="10.5" font-weight="bold" text-anchor="end" fill="#1a1a1a" stroke="#1a1a1a" >0.4</text>
<line x1="42.7" y1="387.85" x2="45.0" y2="387.85" stroke="#333" stroke-width="1.2"/>
<line x1="41.3" y1="371.62" x2="45.0" y2="371.62" stroke="#333" stroke-width="1.2"/>
<text x="38.50" y="375.32" font-size="10.5" font-weight="bold" text-anchor="end" fill="#1a1a1a" stroke="#1a1a1a" >0.6</text>
<line x1="42.7" y1="355.39" x2="45.0" y2="355.39" stroke="#333" stroke-width="1.2"/>
<line x1="41.3" y1="339.16" x2="45.0" y2="339.16" stroke="#333" stroke-width="1.2"/>
<text x="38.50" y="342.86" font-size="10.5" font-weight="bold" text-anchor="end" fill="#1a1a1a" stroke="#1a1a1a" >0.8</text>
<line x1="42.7" y1="322.93" x2="45.0" y2="322.93" stroke="#333" stroke-width="1.2"/>
<line x1="41.3" y1="306.70" x2="45.0" y2="306.70" stroke="#333" stroke-width="1.2"/>
<text x="38.50" y="310.40" font-size="10.5" font-weight="bold" text-anchor="end" fill="#1a1a1a" stroke="#1a1a1a" >1.0</text>
<text x="156.20" y="501.80" font-size="11" font-weight="bold" text-anchor="middle" fill="#1a1a1a" stroke="#1a1a1a" >Time (h)</text>
<text font-size="10" font-weight="bold" fill="#1a1a1a" stroke="#1a1a1a" text-anchor="middle" transform="translate(17.0,380.5) rotate(-90)">C<tspan font-size="6.8" dy="2.0">t</tspan><tspan dy="-2.0">/C</tspan><tspan font-size="6.8" dy="2.0">0</tspan></text>
<text x="254.20" y="313.70" font-size="15" font-weight="bold" text-anchor="end" fill="#1a1a1a" stroke="#1a1a1a" >(c)</text>
<line x1="48.1" y1="427.20" x2="72.4" y2="427.20" stroke="#000" stroke-width="1.2"/>
<rect x="57.80" y="424.70" width="5.00" height="5.00" fill="#000"/>
<text x="76.00" y="430.70" font-size="11" font-weight="normal" text-anchor="start" fill="#1a1a1a" stroke="#1a1a1a" >Photolysis (UV-Vis)</text>
<line x1="48.1" y1="440.90" x2="72.4" y2="440.90" stroke="#ff0000" stroke-width="1.2"/>
<circle cx="60.30" cy="440.90" r="3.00" fill="#ff0000"/>
<text x="76.0" y="444.40" font-size="11" fill="#1a1a1a" stroke="#1a1a1a">TNWs/TNAs (S<tspan font-size="7.5" dy="2.5">1</tspan><tspan dy="-2.5">)</tspan></text>
<line x1="48.1" y1="457.30" x2="72.4" y2="457.30" stroke="#0000ff" stroke-width="1.2"/>
<path d="M60.30,453.50 L63.91,459.66 L56.69,459.66 Z" fill="#0000ff"/>
<text x="76.0" y="460.80" font-size="11" fill="#1a1a1a" stroke="#1a1a1a">Au NPs-NRs-TNWs/TNAs (S<tspan font-size="7.5" dy="2.5">4</tspan><tspan dy="-2.5">)</tspan></text>
<line x1="266.6" y1="396.4" x2="277" y2="396.4" stroke="#bbb" stroke-width="0.8"/>
<line x1="332.31" y1="454.08" x2="520.89" y2="429.20" stroke="#000" stroke-width="1.1"/>
<line x1="332.31" y1="456.40" x2="520.89" y2="402.20" stroke="#ff0000" stroke-width="1.1"/>
<line x1="332.31" y1="461.81" x2="520.89" y2="326.49" stroke="#0000ff" stroke-width="1.1"/>
<rect x="329.81" y="450.29" width="5.00" height="5.00" fill="#000"/>
<rect x="361.25" y="447.33" width="5.00" height="5.00" fill="#000"/>
<rect x="392.68" y="443.85" width="5.00" height="5.00" fill="#000"/>
<rect x="455.54" y="434.57" width="5.00" height="5.00" fill="#000"/>
<rect x="486.97" y="430.76" width="5.00" height="5.00" fill="#000"/>
<rect x="518.39" y="426.51" width="5.00" height="5.00" fill="#000"/>
<circle cx="332.31" cy="452.79" r="3.00" fill="#ff0000"/>
<circle cx="363.75" cy="447.96" r="3.00" fill="#ff0000"/>
<circle cx="395.18" cy="442.48" r="3.00" fill="#ff0000"/>
<circle cx="458.04" cy="423.41" r="3.00" fill="#ff0000"/>
<circle cx="489.47" cy="408.58" r="3.00" fill="#ff0000"/>
<circle cx="520.89" cy="400.08" r="3.00" fill="#ff0000"/>
<path d="M332.31,448.99 L335.93,455.15 L328.70,455.15 Z" fill="#0000ff"/>
<path d="M363.75,435.14 L367.36,441.29 L360.13,441.29 Z" fill="#0000ff"/>
<path d="M395.18,419.35 L398.79,425.50 L391.56,425.50 Z" fill="#0000ff"/>
<path d="M458.04,385.84 L461.65,391.99 L454.43,391.99 Z" fill="#0000ff"/>
<path d="M489.47,332.35 L493.08,338.51 L485.86,338.51 Z" fill="#0000ff"/>
<path d="M520.89,318.82 L524.50,324.98 L517.28,324.98 Z" fill="#0000ff"/>
<rect x="316.6" y="291.7" width="220.0" height="177.2" fill="none" stroke="#333" stroke-width="1.4"/>
<line x1="332.31" y1="468.9" x2="332.31" y2="472.59999999999997" stroke="#222" stroke-width="1.2"/>
<text x="332.31" y="483.60" font-size="10.5" font-weight="bold" text-anchor="middle" fill="#1a1a1a" stroke="#1a1a1a" >0.0</text>
<line x1="348.03" y1="468.9" x2="348.03" y2="471.2" stroke="#222" stroke-width="1.2"/>
<line x1="363.75" y1="468.9" x2="363.75" y2="472.59999999999997" stroke="#222" stroke-width="1.2"/>
<text x="363.75" y="483.60" font-size="10.5" font-weight="bold" text-anchor="middle" fill="#1a1a1a" stroke="#1a1a1a" >0.5</text>
<line x1="379.46" y1="468.9" x2="379.46" y2="471.2" stroke="#222" stroke-width="1.2"/>
<line x1="395.18" y1="468.9" x2="395.18" y2="472.59999999999997" stroke="#222" stroke-width="1.2"/>
<text x="395.18" y="483.60" font-size="10.5" font-weight="bold" text-anchor="middle" fill="#1a1a1a" stroke="#1a1a1a" >1.0</text>
<line x1="410.89" y1="468.9" x2="410.89" y2="471.2" stroke="#222" stroke-width="1.2"/>
<line x1="426.61" y1="468.9" x2="426.61" y2="472.59999999999997" stroke="#222" stroke-width="1.2"/>
<text x="426.61" y="483.60" font-size="10.5" font-weight="bold" text-anchor="middle" fill="#1a1a1a" stroke="#1a1a1a" >1.5</text>
<line x1="442.32" y1="468.9" x2="442.32" y2="471.2" stroke="#222" stroke-width="1.2"/>
<line x1="458.04" y1="468.9" x2="458.04" y2="472.59999999999997" stroke="#222" stroke-width="1.2"/>
<text x="458.04" y="483.60" font-size="10.5" font-weight="bold" text-anchor="middle" fill="#1a1a1a" stroke="#1a1a1a" >2.0</text>
<line x1="473.75" y1="468.9" x2="473.75" y2="471.2" stroke="#222" stroke-width="1.2"/>
<line x1="489.47" y1="468.9" x2="489.47" y2="472.59999999999997" stroke="#222" stroke-width="1.2"/>
<text x="489.47" y="483.60" font-size="10.5" font-weight="bold" text-anchor="middle" fill="#1a1a1a" stroke="#1a1a1a" >2.5</text>
<line x1="505.18" y1="468.9" x2="505.18" y2="471.2" stroke="#222" stroke-width="1.2"/>
<line x1="520.89" y1="468.9" x2="520.89" y2="472.59999999999997" stroke="#222" stroke-width="1.2"/>
<text x="520.89" y="483.60" font-size="10.5" font-weight="bold" text-anchor="middle" fill="#1a1a1a" stroke="#1a1a1a" >3.0</text>
<line x1="314.3" y1="468.90" x2="316.6" y2="468.90" stroke="#222" stroke-width="1.2"/>
<line x1="312.90000000000003" y1="452.79" x2="316.6" y2="452.79" stroke="#222" stroke-width="1.2"/>
<text x="310.30" y="456.49" font-size="10.5" font-weight="bold" text-anchor="end" fill="#1a1a1a" stroke="#1a1a1a" >0.0</text>
<line x1="314.3" y1="436.68" x2="316.6" y2="436.68" stroke="#222" stroke-width="1.2"/>
<line x1="312.90000000000003" y1="420.57" x2="316.6" y2="420.57" stroke="#222" stroke-width="1.2"/>
<text x="310.30" y="424.27" font-size="10.5" font-weight="bold" text-anchor="end" fill="#1a1a1a" stroke="#1a1a1a" >0.5</text>
<line x1="314.3" y1="404.46" x2="316.6" y2="404.46" stroke="#222" stroke-width="1.2"/>
<line x1="312.90000000000003" y1="388.35" x2="316.6" y2="388.35" stroke="#222" stroke-width="1.2"/>
<text x="310.30" y="392.05" font-size="10.5" font-weight="bold" text-anchor="end" fill="#1a1a1a" stroke="#1a1a1a" >1.0</text>
<line x1="314.3" y1="372.24" x2="316.6" y2="372.24" stroke="#222" stroke-width="1.2"/>
<line x1="312.90000000000003" y1="356.13" x2="316.6" y2="356.13" stroke="#222" stroke-width="1.2"/>
<text x="310.30" y="359.83" font-size="10.5" font-weight="bold" text-anchor="end" fill="#1a1a1a" stroke="#1a1a1a" >1.5</text>
<line x1="314.3" y1="340.02" x2="316.6" y2="340.02" stroke="#222" stroke-width="1.2"/>
<line x1="312.90000000000003" y1="323.91" x2="316.6" y2="323.91" stroke="#222" stroke-width="1.2"/>
<text x="310.30" y="327.61" font-size="10.5" font-weight="bold" text-anchor="end" fill="#1a1a1a" stroke="#1a1a1a" >2.0</text>
<line x1="314.3" y1="307.80" x2="316.6" y2="307.80" stroke="#222" stroke-width="1.2"/>
<line x1="312.90000000000003" y1="291.69" x2="316.6" y2="291.69" stroke="#222" stroke-width="1.2"/>
<text x="310.30" y="295.39" font-size="10.5" font-weight="bold" text-anchor="end" fill="#1a1a1a" stroke="#1a1a1a" >2.5</text>
<text x="428.00" y="501.80" font-size="11" font-weight="bold" text-anchor="middle" fill="#1a1a1a" stroke="#1a1a1a" >Time (h)</text>
<text font-size="11" font-weight="bold" fill="#1a1a1a" stroke="#1a1a1a" text-anchor="middle" transform="translate(288.2,380.0) rotate(-90)">-ln(C<tspan font-size="7.5" dy="2.5">t</tspan><tspan dy="-2.5">/C</tspan><tspan font-size="7.5" dy="2.5">0</tspan><tspan dy="-2.5">)</tspan></text>
<text x="516.00" y="312.00" font-size="15" font-weight="bold" text-anchor="end" fill="#1a1a1a" stroke="#1a1a1a" >(d)</text>
<rect x="351.20" y="366.76" width="12.4" height="12.54" fill="#c4c4c4" stroke="#333" stroke-width="0.9"/>
<line x1="357.40" y1="366.37" x2="357.40" y2="367.16" stroke="#333" stroke-width="0.8"/>
<line x1="355.90" y1="366.37" x2="358.90" y2="366.37" stroke="#333" stroke-width="0.8"/>
<line x1="355.90" y1="367.16" x2="358.90" y2="367.16" stroke="#333" stroke-width="0.8"/>
<rect x="381.80" y="351.14" width="12.4" height="28.16" fill="#c4c4c4" stroke="#333" stroke-width="0.9"/>
<line x1="388.00" y1="349.15" x2="388.00" y2="353.13" stroke="#333" stroke-width="0.8"/>
<line x1="386.50" y1="349.15" x2="389.50" y2="349.15" stroke="#333" stroke-width="0.8"/>
<line x1="386.50" y1="353.13" x2="389.50" y2="353.13" stroke="#333" stroke-width="0.8"/>
<rect x="412.30" y="309.65" width="12.4" height="69.65" fill="#c4c4c4" stroke="#333" stroke-width="0.9"/>
<line x1="418.50" y1="302.19" x2="418.50" y2="317.11" stroke="#333" stroke-width="0.8"/>
<line x1="417.00" y1="302.19" x2="420.00" y2="302.19" stroke="#333" stroke-width="0.8"/>
<line x1="417.00" y1="317.11" x2="420.00" y2="317.11" stroke="#333" stroke-width="0.8"/>
<rect x="341.8" y="294.8" width="91.69999999999999" height="84.5" fill="none" stroke="#444" stroke-width="1.1"/>
<line x1="339.3" y1="379.30" x2="341.8" y2="379.30" stroke="#444" stroke-width="0.9"/>
<text x="338.40" y="381.80" font-size="7.0" font-weight="bold" text-anchor="end" fill="#1a1a1a" stroke="#1a1a1a" >0.0</text>
<line x1="340.3" y1="369.35" x2="341.8" y2="369.35" stroke="#444" stroke-width="0.9"/>
<line x1="339.3" y1="359.40" x2="341.8" y2="359.40" stroke="#444" stroke-width="0.9"/>
<text x="338.40" y="361.90" font-size="7.0" font-weight="bold" text-anchor="end" fill="#1a1a1a" stroke="#1a1a1a" >0.2</text>
<line x1="340.3" y1="349.45" x2="341.8" y2="349.45" stroke="#444" stroke-width="0.9"/>
<line x1="339.3" y1="339.50" x2="341.8" y2="339.50" stroke="#444" stroke-width="0.9"/>
<text x="338.40" y="342.00" font-size="7.0" font-weight="bold" text-anchor="end" fill="#1a1a1a" stroke="#1a1a1a" >0.4</text>
<line x1="340.3" y1="329.55" x2="341.8" y2="329.55" stroke="#444" stroke-width="0.9"/>
<line x1="339.3" y1="319.60" x2="341.8" y2="319.60" stroke="#444" stroke-width="0.9"/>
<text x="338.40" y="322.10" font-size="7.0" font-weight="bold" text-anchor="end" fill="#1a1a1a" stroke="#1a1a1a" >0.6</text>
<line x1="340.3" y1="309.65" x2="341.8" y2="309.65" stroke="#444" stroke-width="0.9"/>
<line x1="339.3" y1="299.70" x2="341.8" y2="299.70" stroke="#444" stroke-width="0.9"/>
<text x="338.40" y="302.20" font-size="7.0" font-weight="bold" text-anchor="end" fill="#1a1a1a" stroke="#1a1a1a" >0.8</text>
<line x1="357.4" y1="379.3" x2="357.4" y2="381.3" stroke="#444" stroke-width="0.9"/>
<text x="357.40" y="387.00" font-size="6.5" font-weight="bold" text-anchor="middle" fill="#1a1a1a" stroke="#1a1a1a" >Photolysis</text>
<line x1="388.0" y1="379.3" x2="388.0" y2="381.3" stroke="#444" stroke-width="0.9"/>
<text x="388.00" y="387.00" font-size="6.5" font-weight="bold" text-anchor="middle" fill="#1a1a1a" stroke="#1a1a1a" >S1</text>
<line x1="418.5" y1="379.3" x2="418.5" y2="381.3" stroke="#444" stroke-width="0.9"/>
<text x="418.50" y="387.00" font-size="6.5" font-weight="bold" text-anchor="middle" fill="#1a1a1a" stroke="#1a1a1a" >S4</text>
<text font-size="6.6" font-weight="bold" fill="#1a1a1a" stroke="#1a1a1a" stroke-width="0.15" text-anchor="middle" transform="translate(326.0,336.9) rotate(-90)">Reaction rate (h<tspan font-size="4.3" dy="-2.2">-1</tspan><tspan dy="2.2">)</tspan></text>
<line x1="276.7" y1="293" x2="276.7" y2="487" stroke="#eee" stroke-width="0.8"/>
</svg></body></html>
